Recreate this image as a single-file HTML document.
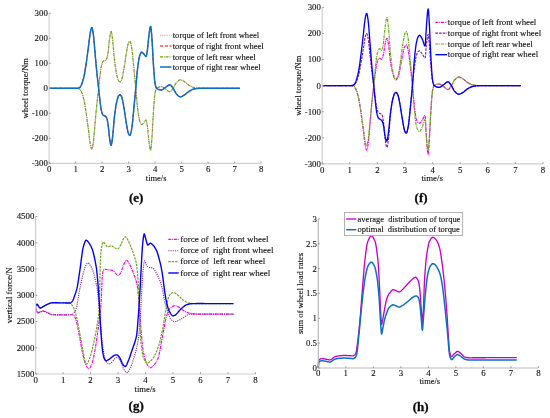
<!DOCTYPE html>
<html lang="en">
<head>
<meta charset="utf-8">
<title>Figure: wheel torque, vertical force and load rates</title>
<style>
html,body{margin:0;padding:0;background:#ffffff;}
body{width:550px;height:418px;overflow:hidden;position:relative;font-family:"Liberation Serif","DejaVu Serif",serif;}
svg text{font-family:"Liberation Serif","DejaVu Serif",serif;fill:#111111;stroke:#111111;stroke-width:0.12px;white-space:pre;}
svg text.cap{fill:#0a0a0a;stroke:#0a0a0a;stroke-width:0.3px;}
</style>
</head>
<body>
<svg width="550" height="418" viewBox="0 0 550 418" style="display:block;position:absolute;left:0;top:0">
<rect x="0" y="0" width="550" height="418" fill="#ffffff"/>
<g class="plot" id="plot-e">
<path d="M49.10 88.30 L49.44 88.30 L49.78 88.30 L50.12 88.30 L50.47 88.30 L50.81 88.30 L51.15 88.30 L51.49 88.30 L51.83 88.30 L52.17 88.30 L52.51 88.30 L52.85 88.30 L53.20 88.30 L53.54 88.30 L53.88 88.30 L54.22 88.30 L54.56 88.30 L54.90 88.30 L55.24 88.30 L55.59 88.30 L55.93 88.30 L56.27 88.30 L56.61 88.30 L56.95 88.30 L57.29 88.30 L57.63 88.30 L57.97 88.30 L58.32 88.30 L58.66 88.30 L59.00 88.30 L59.34 88.30 L59.68 88.30 L60.02 88.30 L60.36 88.30 L60.71 88.30 L61.05 88.30 L61.39 88.30 L61.73 88.30 L62.07 88.30 L62.41 88.30 L62.75 88.30 L63.09 88.30 L63.44 88.30 L63.78 88.30 L64.12 88.30 L64.46 88.30 L64.80 88.30 L65.14 88.30 L65.48 88.30 L65.82 88.30 L66.17 88.30 L66.51 88.30 L66.85 88.30 L67.19 88.30 L67.53 88.30 L67.87 88.30 L68.21 88.30 L68.56 88.30 L68.90 88.30 L69.24 88.30 L69.58 88.30 L69.92 88.30 L70.26 88.30 L70.60 88.30 L70.94 88.30 L71.29 88.30 L71.63 88.30 L71.97 88.30 L72.31 88.30 L72.65 88.30 L72.99 88.30 L73.33 88.30 L73.68 88.30 L74.02 88.30 L74.36 88.30 L74.70 88.30 L75.04 88.30 L75.38 88.30 L75.72 88.30 L76.06 88.31 L76.41 88.33 L76.75 88.35 L77.09 88.38 L77.43 88.40 L77.77 88.43 L78.11 88.48 L78.45 88.58 L78.80 88.70 L79.14 88.85 L79.48 89.00 L79.82 89.21 L80.16 89.59 L80.50 90.10 L80.84 90.69 L81.18 91.33 L81.53 91.99 L81.87 92.78 L82.21 93.73 L82.55 94.78 L82.89 95.88 L83.23 97.03 L83.57 98.33 L83.92 99.78 L84.26 101.37 L84.60 103.11 L84.94 105.07 L85.28 107.18 L85.62 109.41 L85.96 111.70 L86.30 114.01 L86.65 116.38 L86.99 118.83 L87.33 121.34 L87.67 123.89 L88.01 126.47 L88.35 129.04 L88.69 131.78 L89.03 134.66 L89.38 137.53 L89.72 140.23 L90.06 142.60 L90.40 144.56 L90.74 146.28 L91.08 147.68 L91.42 148.64 L91.77 149.05 L92.11 148.70 L92.45 147.56 L92.79 145.81 L93.13 143.63 L93.47 141.15 L93.81 137.93 L94.15 134.10 L94.50 130.01 L94.84 126.00 L95.18 122.23 L95.52 118.40 L95.86 114.56 L96.20 110.78 L96.54 107.14 L96.89 103.72 L97.23 100.53 L97.57 97.50 L97.91 94.54 L98.25 91.55 L98.59 88.44 L98.93 85.20 L99.27 81.96 L99.62 78.84 L99.96 75.98 L100.30 73.29 L100.64 70.68 L100.98 68.31 L101.32 66.36 L101.66 64.97 L102.01 63.80 L102.35 62.76 L102.69 61.94 L103.03 61.41 L103.37 61.20 L103.71 61.09 L104.05 61.03 L104.39 60.95 L104.74 60.81 L105.08 60.58 L105.42 60.30 L105.76 59.96 L106.10 59.58 L106.44 59.15 L106.78 58.37 L107.13 57.18 L107.47 55.69 L107.81 53.96 L108.15 51.84 L108.49 48.76 L108.83 45.20 L109.17 41.71 L109.51 38.84 L109.86 36.49 L110.20 34.31 L110.54 32.55 L110.88 31.49 L111.22 31.39 L111.56 32.46 L111.90 34.45 L112.24 37.03 L112.59 39.86 L112.93 42.87 L113.27 46.55 L113.61 50.61 L113.95 54.68 L114.29 58.41 L114.63 61.44 L114.98 64.13 L115.32 66.68 L115.66 69.04 L116.00 71.17 L116.34 73.03 L116.68 74.58 L117.02 75.97 L117.36 77.30 L117.71 78.52 L118.05 79.55 L118.39 80.32 L118.73 80.82 L119.07 81.24 L119.41 81.56 L119.75 81.76 L120.10 81.80 L120.44 81.64 L120.78 81.27 L121.12 80.72 L121.46 80.03 L121.80 79.24 L122.14 78.31 L122.48 76.98 L122.83 75.32 L123.17 73.42 L123.51 71.42 L123.85 69.44 L124.19 67.37 L124.53 65.15 L124.87 62.85 L125.22 60.53 L125.56 58.26 L125.90 56.11 L126.24 54.05 L126.58 51.95 L126.92 49.90 L127.26 47.96 L127.60 46.22 L127.95 44.75 L128.29 43.59 L128.63 42.66 L128.97 41.96 L129.31 41.49 L129.65 41.28 L129.99 41.34 L130.34 41.86 L130.68 42.86 L131.02 44.25 L131.36 45.94 L131.70 47.84 L132.04 50.06 L132.38 52.92 L132.72 56.24 L133.07 59.82 L133.41 63.45 L133.75 66.95 L134.09 70.46 L134.43 74.06 L134.77 77.71 L135.11 81.39 L135.45 85.08 L135.80 88.74 L136.14 92.58 L136.48 96.57 L136.82 100.51 L137.16 104.19 L137.50 107.41 L137.84 110.13 L138.19 112.67 L138.53 115.00 L138.87 117.08 L139.21 118.84 L139.55 120.23 L139.89 121.27 L140.23 122.27 L140.57 123.21 L140.92 123.97 L141.26 124.45 L141.60 124.55 L141.94 124.38 L142.28 124.14 L142.62 123.84 L142.96 123.52 L143.31 123.18 L143.65 122.83 L143.99 122.40 L144.33 121.93 L144.67 121.43 L145.01 120.95 L145.35 120.51 L145.69 120.16 L146.04 120.09 L146.38 120.87 L146.72 122.29 L147.06 124.06 L147.40 126.26 L147.74 129.42 L148.08 133.08 L148.43 136.70 L148.77 139.76 L149.11 142.47 L149.45 145.08 L149.79 147.37 L150.13 149.13 L150.47 150.15 L150.81 149.91 L151.16 147.54 L151.50 143.75 L151.84 139.35 L152.18 134.51 L152.52 128.47 L152.86 121.92 L153.20 115.62 L153.55 110.31 L153.89 105.50 L154.23 100.87 L154.57 96.84 L154.91 93.85 L155.25 92.17 L155.59 90.85 L155.93 89.72 L156.28 88.86 L156.62 88.36 L156.96 88.13 L157.30 87.90 L157.64 87.69 L157.98 87.48 L158.32 87.30 L158.66 87.16 L159.01 87.06 L159.35 87.00 L159.69 86.92 L160.03 86.85 L160.37 86.78 L160.71 86.72 L161.05 86.69 L161.40 86.69 L161.74 86.74 L162.08 86.83 L162.42 86.97 L162.76 87.14 L163.10 87.35 L163.44 87.59 L163.78 87.84 L164.13 88.11 L164.47 88.38 L164.81 88.65 L165.15 88.91 L165.49 89.16 L165.83 89.39 L166.17 89.63 L166.52 89.88 L166.86 90.14 L167.20 90.40 L167.54 90.66 L167.88 90.91 L168.22 91.14 L168.56 91.34 L168.90 91.53 L169.25 91.67 L169.59 91.78 L169.93 91.82 L170.27 91.73 L170.61 91.52 L170.95 91.22 L171.29 90.85 L171.64 90.41 L171.98 89.94 L172.32 89.44 L172.66 88.95 L173.00 88.46 L173.34 87.98 L173.68 87.42 L174.02 86.80 L174.37 86.14 L174.71 85.46 L175.05 84.79 L175.39 84.15 L175.73 83.57 L176.07 83.08 L176.41 82.67 L176.76 82.30 L177.10 81.93 L177.44 81.57 L177.78 81.22 L178.12 80.90 L178.46 80.61 L178.80 80.35 L179.14 80.14 L179.49 79.97 L179.83 79.85 L180.17 79.79 L180.51 79.80 L180.85 79.85 L181.19 79.94 L181.53 80.06 L181.87 80.19 L182.22 80.35 L182.56 80.53 L182.90 80.72 L183.24 80.92 L183.58 81.13 L183.92 81.34 L184.26 81.56 L184.61 81.79 L184.95 82.03 L185.29 82.29 L185.63 82.56 L185.97 82.83 L186.31 83.11 L186.65 83.40 L186.99 83.68 L187.34 83.97 L187.68 84.24 L188.02 84.51 L188.36 84.77 L188.70 85.02 L189.04 85.24 L189.38 85.46 L189.73 85.65 L190.07 85.84 L190.41 86.03 L190.75 86.21 L191.09 86.40 L191.43 86.57 L191.77 86.75 L192.11 86.91 L192.46 87.07 L192.80 87.21 L193.14 87.35 L193.48 87.47 L193.82 87.58 L194.16 87.67 L194.50 87.74 L194.85 87.80 L195.19 87.85 L195.53 87.89 L195.87 87.94 L196.21 87.99 L196.55 88.03 L196.89 88.07 L197.23 88.11 L197.58 88.15 L197.92 88.18 L198.26 88.21 L198.60 88.24 L198.94 88.26 L199.28 88.28 L199.62 88.29 L199.97 88.30 L200.31 88.30 L200.65 88.30 L200.99 88.30 L201.33 88.30 L201.67 88.30 L202.01 88.30 L202.35 88.30 L202.70 88.30 L203.04 88.30 L203.38 88.30 L203.72 88.30 L204.06 88.30 L204.40 88.30 L204.74 88.30 L205.08 88.30 L205.43 88.30 L205.77 88.30 L206.11 88.30 L206.45 88.30 L206.79 88.30 L207.13 88.30 L207.47 88.30 L207.82 88.30 L208.16 88.30 L208.50 88.30 L208.84 88.30 L209.18 88.30 L209.52 88.30 L209.86 88.30 L210.20 88.30 L210.55 88.30 L210.89 88.30 L211.23 88.30 L211.57 88.30 L211.91 88.30 L212.25 88.30 L212.59 88.30 L212.94 88.30 L213.28 88.30 L213.62 88.30 L213.96 88.30 L214.30 88.30 L214.64 88.30 L214.98 88.30 L215.32 88.30 L215.67 88.30 L216.01 88.30 L216.35 88.30 L216.69 88.30 L217.03 88.30 L217.37 88.30 L217.71 88.30 L218.06 88.30 L218.40 88.30 L218.74 88.30 L219.08 88.30 L219.42 88.30 L219.76 88.30 L220.10 88.30 L220.44 88.30 L220.79 88.30 L221.13 88.30 L221.47 88.30 L221.81 88.30 L222.15 88.30 L222.49 88.30 L222.83 88.30 L223.18 88.30 L223.52 88.30 L223.86 88.30 L224.20 88.30 L224.54 88.30 L224.88 88.30 L225.22 88.30 L225.56 88.30 L225.91 88.30 L226.25 88.30 L226.59 88.30 L226.93 88.30 L227.27 88.30 L227.61 88.30 L227.95 88.30 L228.29 88.30 L228.64 88.30 L228.98 88.30 L229.32 88.30 L229.66 88.30 L230.00 88.30 L230.34 88.30 L230.68 88.30 L231.03 88.30 L231.37 88.30 L231.71 88.30 L232.05 88.30 L232.39 88.30 L232.73 88.30 L233.07 88.30 L233.41 88.30 L233.76 88.30 L234.10 88.30 L234.44 88.30 L234.78 88.30 L235.12 88.30 L235.46 88.30 L235.80 88.30 L236.15 88.30 L236.49 88.30 L236.83 88.30 L237.17 88.30 L237.51 88.30 L237.85 88.30 L238.19 88.30 L238.53 88.30 L238.88 88.30 L239.22 88.30 L239.56 88.30 L239.90 88.30" fill="none" stroke="#ff7fbf" stroke-width="1.0" stroke-linejoin="round" stroke-dasharray="1.1 1.1"/>
<path d="M49.10 88.30 L49.44 88.30 L49.78 88.30 L50.12 88.30 L50.47 88.30 L50.81 88.30 L51.15 88.30 L51.49 88.30 L51.83 88.30 L52.17 88.30 L52.51 88.30 L52.85 88.30 L53.20 88.30 L53.54 88.30 L53.88 88.30 L54.22 88.30 L54.56 88.30 L54.90 88.30 L55.24 88.30 L55.59 88.30 L55.93 88.30 L56.27 88.30 L56.61 88.30 L56.95 88.30 L57.29 88.30 L57.63 88.30 L57.97 88.30 L58.32 88.30 L58.66 88.30 L59.00 88.30 L59.34 88.30 L59.68 88.30 L60.02 88.30 L60.36 88.30 L60.71 88.30 L61.05 88.30 L61.39 88.30 L61.73 88.30 L62.07 88.30 L62.41 88.30 L62.75 88.30 L63.09 88.30 L63.44 88.30 L63.78 88.30 L64.12 88.30 L64.46 88.30 L64.80 88.30 L65.14 88.30 L65.48 88.30 L65.82 88.30 L66.17 88.30 L66.51 88.30 L66.85 88.30 L67.19 88.30 L67.53 88.30 L67.87 88.30 L68.21 88.30 L68.56 88.30 L68.90 88.30 L69.24 88.30 L69.58 88.30 L69.92 88.30 L70.26 88.30 L70.60 88.30 L70.94 88.30 L71.29 88.30 L71.63 88.30 L71.97 88.30 L72.31 88.30 L72.65 88.30 L72.99 88.30 L73.33 88.30 L73.68 88.30 L74.02 88.30 L74.36 88.30 L74.70 88.30 L75.04 88.30 L75.38 88.30 L75.72 88.30 L76.06 88.29 L76.41 88.27 L76.75 88.25 L77.09 88.22 L77.43 88.20 L77.77 88.17 L78.11 88.12 L78.45 88.02 L78.80 87.90 L79.14 87.75 L79.48 87.60 L79.82 87.39 L80.16 87.01 L80.50 86.50 L80.84 85.91 L81.18 85.27 L81.53 84.61 L81.87 83.82 L82.21 82.87 L82.55 81.82 L82.89 80.72 L83.23 79.57 L83.57 78.27 L83.92 76.82 L84.26 75.23 L84.60 73.49 L84.94 71.53 L85.28 69.42 L85.62 67.19 L85.96 64.90 L86.30 62.59 L86.65 60.22 L86.99 57.77 L87.33 55.26 L87.67 52.71 L88.01 50.13 L88.35 47.56 L88.69 44.82 L89.03 41.94 L89.38 39.07 L89.72 36.37 L90.06 34.00 L90.40 32.04 L90.74 30.32 L91.08 28.92 L91.42 27.96 L91.77 27.55 L92.11 27.90 L92.45 29.04 L92.79 30.79 L93.13 32.97 L93.47 35.45 L93.81 38.67 L94.15 42.50 L94.50 46.59 L94.84 50.60 L95.18 54.37 L95.52 58.20 L95.86 62.04 L96.20 65.82 L96.54 69.46 L96.89 72.88 L97.23 76.07 L97.57 79.10 L97.91 82.06 L98.25 85.05 L98.59 88.16 L98.93 91.40 L99.27 94.64 L99.62 97.76 L99.96 100.62 L100.30 103.31 L100.64 105.92 L100.98 108.29 L101.32 110.24 L101.66 111.63 L102.01 112.80 L102.35 113.84 L102.69 114.66 L103.03 115.19 L103.37 115.40 L103.71 115.51 L104.05 115.57 L104.39 115.65 L104.74 115.79 L105.08 116.02 L105.42 116.30 L105.76 116.64 L106.10 117.02 L106.44 117.45 L106.78 118.23 L107.13 119.42 L107.47 120.91 L107.81 122.64 L108.15 124.76 L108.49 127.84 L108.83 131.40 L109.17 134.89 L109.51 137.76 L109.86 140.11 L110.20 142.29 L110.54 144.05 L110.88 145.11 L111.22 145.21 L111.56 144.14 L111.90 142.15 L112.24 139.57 L112.59 136.74 L112.93 133.73 L113.27 130.05 L113.61 125.99 L113.95 121.92 L114.29 118.19 L114.63 115.16 L114.98 112.47 L115.32 109.92 L115.66 107.56 L116.00 105.43 L116.34 103.57 L116.68 102.02 L117.02 100.63 L117.36 99.30 L117.71 98.08 L118.05 97.05 L118.39 96.28 L118.73 95.78 L119.07 95.36 L119.41 95.04 L119.75 94.84 L120.10 94.80 L120.44 94.96 L120.78 95.33 L121.12 95.88 L121.46 96.57 L121.80 97.36 L122.14 98.29 L122.48 99.62 L122.83 101.28 L123.17 103.18 L123.51 105.18 L123.85 107.16 L124.19 109.23 L124.53 111.45 L124.87 113.75 L125.22 116.07 L125.56 118.34 L125.90 120.49 L126.24 122.55 L126.58 124.65 L126.92 126.70 L127.26 128.64 L127.60 130.38 L127.95 131.85 L128.29 133.01 L128.63 133.94 L128.97 134.64 L129.31 135.11 L129.65 135.32 L129.99 135.26 L130.34 134.74 L130.68 133.74 L131.02 132.35 L131.36 130.66 L131.70 128.76 L132.04 126.54 L132.38 123.68 L132.72 120.36 L133.07 116.78 L133.41 113.15 L133.75 109.65 L134.09 106.14 L134.43 102.54 L134.77 98.89 L135.11 95.21 L135.45 91.52 L135.80 87.86 L136.14 84.02 L136.48 80.03 L136.82 76.09 L137.16 72.41 L137.50 69.19 L137.84 66.47 L138.19 63.93 L138.53 61.60 L138.87 59.52 L139.21 57.76 L139.55 56.37 L139.89 55.33 L140.23 54.33 L140.57 53.39 L140.92 52.63 L141.26 52.15 L141.60 52.05 L141.94 52.22 L142.28 52.46 L142.62 52.76 L142.96 53.08 L143.31 53.42 L143.65 53.77 L143.99 54.20 L144.33 54.67 L144.67 55.17 L145.01 55.65 L145.35 56.09 L145.69 56.44 L146.04 56.51 L146.38 55.73 L146.72 54.31 L147.06 52.54 L147.40 50.34 L147.74 47.18 L148.08 43.52 L148.43 39.90 L148.77 36.84 L149.11 34.13 L149.45 31.52 L149.79 29.23 L150.13 27.47 L150.47 26.45 L150.81 26.69 L151.16 29.06 L151.50 32.85 L151.84 37.25 L152.18 42.09 L152.52 48.13 L152.86 54.68 L153.20 60.98 L153.55 66.29 L153.89 71.10 L154.23 75.73 L154.57 79.76 L154.91 82.75 L155.25 84.43 L155.59 85.75 L155.93 86.88 L156.28 87.74 L156.62 88.24 L156.96 88.47 L157.30 88.70 L157.64 88.91 L157.98 89.12 L158.32 89.30 L158.66 89.44 L159.01 89.54 L159.35 89.60 L159.69 89.68 L160.03 89.75 L160.37 89.82 L160.71 89.88 L161.05 89.91 L161.40 89.91 L161.74 89.86 L162.08 89.77 L162.42 89.63 L162.76 89.46 L163.10 89.25 L163.44 89.01 L163.78 88.76 L164.13 88.49 L164.47 88.22 L164.81 87.95 L165.15 87.69 L165.49 87.44 L165.83 87.21 L166.17 86.97 L166.52 86.72 L166.86 86.46 L167.20 86.20 L167.54 85.94 L167.88 85.69 L168.22 85.46 L168.56 85.26 L168.90 85.07 L169.25 84.93 L169.59 84.82 L169.93 84.78 L170.27 84.87 L170.61 85.08 L170.95 85.38 L171.29 85.75 L171.64 86.19 L171.98 86.66 L172.32 87.16 L172.66 87.65 L173.00 88.14 L173.34 88.62 L173.68 89.18 L174.02 89.80 L174.37 90.46 L174.71 91.14 L175.05 91.81 L175.39 92.45 L175.73 93.03 L176.07 93.52 L176.41 93.93 L176.76 94.30 L177.10 94.67 L177.44 95.03 L177.78 95.38 L178.12 95.70 L178.46 95.99 L178.80 96.25 L179.14 96.46 L179.49 96.63 L179.83 96.75 L180.17 96.81 L180.51 96.80 L180.85 96.75 L181.19 96.66 L181.53 96.54 L181.87 96.41 L182.22 96.25 L182.56 96.07 L182.90 95.88 L183.24 95.68 L183.58 95.47 L183.92 95.26 L184.26 95.04 L184.61 94.81 L184.95 94.57 L185.29 94.31 L185.63 94.04 L185.97 93.77 L186.31 93.49 L186.65 93.20 L186.99 92.92 L187.34 92.63 L187.68 92.36 L188.02 92.09 L188.36 91.83 L188.70 91.58 L189.04 91.36 L189.38 91.14 L189.73 90.95 L190.07 90.76 L190.41 90.57 L190.75 90.39 L191.09 90.20 L191.43 90.03 L191.77 89.85 L192.11 89.69 L192.46 89.53 L192.80 89.39 L193.14 89.25 L193.48 89.13 L193.82 89.02 L194.16 88.93 L194.50 88.86 L194.85 88.80 L195.19 88.75 L195.53 88.71 L195.87 88.66 L196.21 88.61 L196.55 88.57 L196.89 88.53 L197.23 88.49 L197.58 88.45 L197.92 88.42 L198.26 88.39 L198.60 88.36 L198.94 88.34 L199.28 88.32 L199.62 88.31 L199.97 88.30 L200.31 88.30 L200.65 88.30 L200.99 88.30 L201.33 88.30 L201.67 88.30 L202.01 88.30 L202.35 88.30 L202.70 88.30 L203.04 88.30 L203.38 88.30 L203.72 88.30 L204.06 88.30 L204.40 88.30 L204.74 88.30 L205.08 88.30 L205.43 88.30 L205.77 88.30 L206.11 88.30 L206.45 88.30 L206.79 88.30 L207.13 88.30 L207.47 88.30 L207.82 88.30 L208.16 88.30 L208.50 88.30 L208.84 88.30 L209.18 88.30 L209.52 88.30 L209.86 88.30 L210.20 88.30 L210.55 88.30 L210.89 88.30 L211.23 88.30 L211.57 88.30 L211.91 88.30 L212.25 88.30 L212.59 88.30 L212.94 88.30 L213.28 88.30 L213.62 88.30 L213.96 88.30 L214.30 88.30 L214.64 88.30 L214.98 88.30 L215.32 88.30 L215.67 88.30 L216.01 88.30 L216.35 88.30 L216.69 88.30 L217.03 88.30 L217.37 88.30 L217.71 88.30 L218.06 88.30 L218.40 88.30 L218.74 88.30 L219.08 88.30 L219.42 88.30 L219.76 88.30 L220.10 88.30 L220.44 88.30 L220.79 88.30 L221.13 88.30 L221.47 88.30 L221.81 88.30 L222.15 88.30 L222.49 88.30 L222.83 88.30 L223.18 88.30 L223.52 88.30 L223.86 88.30 L224.20 88.30 L224.54 88.30 L224.88 88.30 L225.22 88.30 L225.56 88.30 L225.91 88.30 L226.25 88.30 L226.59 88.30 L226.93 88.30 L227.27 88.30 L227.61 88.30 L227.95 88.30 L228.29 88.30 L228.64 88.30 L228.98 88.30 L229.32 88.30 L229.66 88.30 L230.00 88.30 L230.34 88.30 L230.68 88.30 L231.03 88.30 L231.37 88.30 L231.71 88.30 L232.05 88.30 L232.39 88.30 L232.73 88.30 L233.07 88.30 L233.41 88.30 L233.76 88.30 L234.10 88.30 L234.44 88.30 L234.78 88.30 L235.12 88.30 L235.46 88.30 L235.80 88.30 L236.15 88.30 L236.49 88.30 L236.83 88.30 L237.17 88.30 L237.51 88.30 L237.85 88.30 L238.19 88.30 L238.53 88.30 L238.88 88.30 L239.22 88.30 L239.56 88.30 L239.90 88.30" fill="none" stroke="#ff0000" stroke-width="1.1" stroke-linejoin="round" stroke-dasharray="3.2 1.6"/>
<path d="M49.10 88.30 L49.44 88.30 L49.78 88.30 L50.12 88.30 L50.47 88.30 L50.81 88.30 L51.15 88.30 L51.49 88.30 L51.83 88.30 L52.17 88.30 L52.51 88.30 L52.85 88.30 L53.20 88.30 L53.54 88.30 L53.88 88.30 L54.22 88.30 L54.56 88.30 L54.90 88.30 L55.24 88.30 L55.59 88.30 L55.93 88.30 L56.27 88.30 L56.61 88.30 L56.95 88.30 L57.29 88.30 L57.63 88.30 L57.97 88.30 L58.32 88.30 L58.66 88.30 L59.00 88.30 L59.34 88.30 L59.68 88.30 L60.02 88.30 L60.36 88.30 L60.71 88.30 L61.05 88.30 L61.39 88.30 L61.73 88.30 L62.07 88.30 L62.41 88.30 L62.75 88.30 L63.09 88.30 L63.44 88.30 L63.78 88.30 L64.12 88.30 L64.46 88.30 L64.80 88.30 L65.14 88.30 L65.48 88.30 L65.82 88.30 L66.17 88.30 L66.51 88.30 L66.85 88.30 L67.19 88.30 L67.53 88.30 L67.87 88.30 L68.21 88.30 L68.56 88.30 L68.90 88.30 L69.24 88.30 L69.58 88.30 L69.92 88.30 L70.26 88.30 L70.60 88.30 L70.94 88.30 L71.29 88.30 L71.63 88.30 L71.97 88.30 L72.31 88.30 L72.65 88.30 L72.99 88.30 L73.33 88.30 L73.68 88.30 L74.02 88.30 L74.36 88.30 L74.70 88.30 L75.04 88.30 L75.38 88.30 L75.72 88.30 L76.06 88.31 L76.41 88.33 L76.75 88.35 L77.09 88.38 L77.43 88.40 L77.77 88.43 L78.11 88.48 L78.45 88.58 L78.80 88.70 L79.14 88.85 L79.48 89.00 L79.82 89.21 L80.16 89.59 L80.50 90.10 L80.84 90.69 L81.18 91.33 L81.53 91.99 L81.87 92.78 L82.21 93.73 L82.55 94.78 L82.89 95.88 L83.23 97.03 L83.57 98.33 L83.92 99.78 L84.26 101.37 L84.60 103.11 L84.94 105.07 L85.28 107.18 L85.62 109.41 L85.96 111.70 L86.30 114.01 L86.65 116.38 L86.99 118.83 L87.33 121.34 L87.67 123.89 L88.01 126.47 L88.35 129.04 L88.69 131.78 L89.03 134.66 L89.38 137.53 L89.72 140.23 L90.06 142.60 L90.40 144.56 L90.74 146.28 L91.08 147.68 L91.42 148.64 L91.77 149.05 L92.11 148.70 L92.45 147.56 L92.79 145.81 L93.13 143.63 L93.47 141.15 L93.81 137.93 L94.15 134.10 L94.50 130.01 L94.84 126.00 L95.18 122.23 L95.52 118.40 L95.86 114.56 L96.20 110.78 L96.54 107.14 L96.89 103.72 L97.23 100.53 L97.57 97.50 L97.91 94.54 L98.25 91.55 L98.59 88.44 L98.93 85.20 L99.27 81.96 L99.62 78.84 L99.96 75.98 L100.30 73.29 L100.64 70.68 L100.98 68.31 L101.32 66.36 L101.66 64.97 L102.01 63.80 L102.35 62.76 L102.69 61.94 L103.03 61.41 L103.37 61.20 L103.71 61.09 L104.05 61.03 L104.39 60.95 L104.74 60.81 L105.08 60.58 L105.42 60.30 L105.76 59.96 L106.10 59.58 L106.44 59.15 L106.78 58.37 L107.13 57.18 L107.47 55.69 L107.81 53.96 L108.15 51.84 L108.49 48.76 L108.83 45.20 L109.17 41.71 L109.51 38.84 L109.86 36.49 L110.20 34.31 L110.54 32.55 L110.88 31.49 L111.22 31.39 L111.56 32.46 L111.90 34.45 L112.24 37.03 L112.59 39.86 L112.93 42.87 L113.27 46.55 L113.61 50.61 L113.95 54.68 L114.29 58.41 L114.63 61.44 L114.98 64.13 L115.32 66.68 L115.66 69.04 L116.00 71.17 L116.34 73.03 L116.68 74.58 L117.02 75.97 L117.36 77.30 L117.71 78.52 L118.05 79.55 L118.39 80.32 L118.73 80.82 L119.07 81.24 L119.41 81.56 L119.75 81.76 L120.10 81.80 L120.44 81.64 L120.78 81.27 L121.12 80.72 L121.46 80.03 L121.80 79.24 L122.14 78.31 L122.48 76.98 L122.83 75.32 L123.17 73.42 L123.51 71.42 L123.85 69.44 L124.19 67.37 L124.53 65.15 L124.87 62.85 L125.22 60.53 L125.56 58.26 L125.90 56.11 L126.24 54.05 L126.58 51.95 L126.92 49.90 L127.26 47.96 L127.60 46.22 L127.95 44.75 L128.29 43.59 L128.63 42.66 L128.97 41.96 L129.31 41.49 L129.65 41.28 L129.99 41.34 L130.34 41.86 L130.68 42.86 L131.02 44.25 L131.36 45.94 L131.70 47.84 L132.04 50.06 L132.38 52.92 L132.72 56.24 L133.07 59.82 L133.41 63.45 L133.75 66.95 L134.09 70.46 L134.43 74.06 L134.77 77.71 L135.11 81.39 L135.45 85.08 L135.80 88.74 L136.14 92.58 L136.48 96.57 L136.82 100.51 L137.16 104.19 L137.50 107.41 L137.84 110.13 L138.19 112.67 L138.53 115.00 L138.87 117.08 L139.21 118.84 L139.55 120.23 L139.89 121.27 L140.23 122.27 L140.57 123.21 L140.92 123.97 L141.26 124.45 L141.60 124.55 L141.94 124.38 L142.28 124.14 L142.62 123.84 L142.96 123.52 L143.31 123.18 L143.65 122.83 L143.99 122.40 L144.33 121.93 L144.67 121.43 L145.01 120.95 L145.35 120.51 L145.69 120.16 L146.04 120.09 L146.38 120.87 L146.72 122.29 L147.06 124.06 L147.40 126.26 L147.74 129.42 L148.08 133.08 L148.43 136.70 L148.77 139.76 L149.11 142.47 L149.45 145.08 L149.79 147.37 L150.13 149.13 L150.47 150.15 L150.81 149.91 L151.16 147.54 L151.50 143.75 L151.84 139.35 L152.18 134.51 L152.52 128.47 L152.86 121.92 L153.20 115.62 L153.55 110.31 L153.89 105.50 L154.23 100.87 L154.57 96.84 L154.91 93.85 L155.25 92.17 L155.59 90.85 L155.93 89.72 L156.28 88.86 L156.62 88.36 L156.96 88.13 L157.30 87.90 L157.64 87.69 L157.98 87.48 L158.32 87.30 L158.66 87.16 L159.01 87.06 L159.35 87.00 L159.69 86.92 L160.03 86.85 L160.37 86.78 L160.71 86.72 L161.05 86.69 L161.40 86.69 L161.74 86.74 L162.08 86.83 L162.42 86.97 L162.76 87.14 L163.10 87.35 L163.44 87.59 L163.78 87.84 L164.13 88.11 L164.47 88.38 L164.81 88.65 L165.15 88.91 L165.49 89.16 L165.83 89.39 L166.17 89.63 L166.52 89.88 L166.86 90.14 L167.20 90.40 L167.54 90.66 L167.88 90.91 L168.22 91.14 L168.56 91.34 L168.90 91.53 L169.25 91.67 L169.59 91.78 L169.93 91.82 L170.27 91.73 L170.61 91.52 L170.95 91.22 L171.29 90.85 L171.64 90.41 L171.98 89.94 L172.32 89.44 L172.66 88.95 L173.00 88.46 L173.34 87.98 L173.68 87.42 L174.02 86.80 L174.37 86.14 L174.71 85.46 L175.05 84.79 L175.39 84.15 L175.73 83.57 L176.07 83.08 L176.41 82.67 L176.76 82.30 L177.10 81.93 L177.44 81.57 L177.78 81.22 L178.12 80.90 L178.46 80.61 L178.80 80.35 L179.14 80.14 L179.49 79.97 L179.83 79.85 L180.17 79.79 L180.51 79.80 L180.85 79.85 L181.19 79.94 L181.53 80.06 L181.87 80.19 L182.22 80.35 L182.56 80.53 L182.90 80.72 L183.24 80.92 L183.58 81.13 L183.92 81.34 L184.26 81.56 L184.61 81.79 L184.95 82.03 L185.29 82.29 L185.63 82.56 L185.97 82.83 L186.31 83.11 L186.65 83.40 L186.99 83.68 L187.34 83.97 L187.68 84.24 L188.02 84.51 L188.36 84.77 L188.70 85.02 L189.04 85.24 L189.38 85.46 L189.73 85.65 L190.07 85.84 L190.41 86.03 L190.75 86.21 L191.09 86.40 L191.43 86.57 L191.77 86.75 L192.11 86.91 L192.46 87.07 L192.80 87.21 L193.14 87.35 L193.48 87.47 L193.82 87.58 L194.16 87.67 L194.50 87.74 L194.85 87.80 L195.19 87.85 L195.53 87.89 L195.87 87.94 L196.21 87.99 L196.55 88.03 L196.89 88.07 L197.23 88.11 L197.58 88.15 L197.92 88.18 L198.26 88.21 L198.60 88.24 L198.94 88.26 L199.28 88.28 L199.62 88.29 L199.97 88.30 L200.31 88.30 L200.65 88.30 L200.99 88.30 L201.33 88.30 L201.67 88.30 L202.01 88.30 L202.35 88.30 L202.70 88.30 L203.04 88.30 L203.38 88.30 L203.72 88.30 L204.06 88.30 L204.40 88.30 L204.74 88.30 L205.08 88.30 L205.43 88.30 L205.77 88.30 L206.11 88.30 L206.45 88.30 L206.79 88.30 L207.13 88.30 L207.47 88.30 L207.82 88.30 L208.16 88.30 L208.50 88.30 L208.84 88.30 L209.18 88.30 L209.52 88.30 L209.86 88.30 L210.20 88.30 L210.55 88.30 L210.89 88.30 L211.23 88.30 L211.57 88.30 L211.91 88.30 L212.25 88.30 L212.59 88.30 L212.94 88.30 L213.28 88.30 L213.62 88.30 L213.96 88.30 L214.30 88.30 L214.64 88.30 L214.98 88.30 L215.32 88.30 L215.67 88.30 L216.01 88.30 L216.35 88.30 L216.69 88.30 L217.03 88.30 L217.37 88.30 L217.71 88.30 L218.06 88.30 L218.40 88.30 L218.74 88.30 L219.08 88.30 L219.42 88.30 L219.76 88.30 L220.10 88.30 L220.44 88.30 L220.79 88.30 L221.13 88.30 L221.47 88.30 L221.81 88.30 L222.15 88.30 L222.49 88.30 L222.83 88.30 L223.18 88.30 L223.52 88.30 L223.86 88.30 L224.20 88.30 L224.54 88.30 L224.88 88.30 L225.22 88.30 L225.56 88.30 L225.91 88.30 L226.25 88.30 L226.59 88.30 L226.93 88.30 L227.27 88.30 L227.61 88.30 L227.95 88.30 L228.29 88.30 L228.64 88.30 L228.98 88.30 L229.32 88.30 L229.66 88.30 L230.00 88.30 L230.34 88.30 L230.68 88.30 L231.03 88.30 L231.37 88.30 L231.71 88.30 L232.05 88.30 L232.39 88.30 L232.73 88.30 L233.07 88.30 L233.41 88.30 L233.76 88.30 L234.10 88.30 L234.44 88.30 L234.78 88.30 L235.12 88.30 L235.46 88.30 L235.80 88.30 L236.15 88.30 L236.49 88.30 L236.83 88.30 L237.17 88.30 L237.51 88.30 L237.85 88.30 L238.19 88.30 L238.53 88.30 L238.88 88.30 L239.22 88.30 L239.56 88.30 L239.90 88.30" fill="none" stroke="#6aa818" stroke-width="1.2" stroke-linejoin="round" stroke-dasharray="3 0.8 1 0.8"/>
<path d="M49.10 88.30 L49.44 88.30 L49.78 88.30 L50.12 88.30 L50.47 88.30 L50.81 88.30 L51.15 88.30 L51.49 88.30 L51.83 88.30 L52.17 88.30 L52.51 88.30 L52.85 88.30 L53.20 88.30 L53.54 88.30 L53.88 88.30 L54.22 88.30 L54.56 88.30 L54.90 88.30 L55.24 88.30 L55.59 88.30 L55.93 88.30 L56.27 88.30 L56.61 88.30 L56.95 88.30 L57.29 88.30 L57.63 88.30 L57.97 88.30 L58.32 88.30 L58.66 88.30 L59.00 88.30 L59.34 88.30 L59.68 88.30 L60.02 88.30 L60.36 88.30 L60.71 88.30 L61.05 88.30 L61.39 88.30 L61.73 88.30 L62.07 88.30 L62.41 88.30 L62.75 88.30 L63.09 88.30 L63.44 88.30 L63.78 88.30 L64.12 88.30 L64.46 88.30 L64.80 88.30 L65.14 88.30 L65.48 88.30 L65.82 88.30 L66.17 88.30 L66.51 88.30 L66.85 88.30 L67.19 88.30 L67.53 88.30 L67.87 88.30 L68.21 88.30 L68.56 88.30 L68.90 88.30 L69.24 88.30 L69.58 88.30 L69.92 88.30 L70.26 88.30 L70.60 88.30 L70.94 88.30 L71.29 88.30 L71.63 88.30 L71.97 88.30 L72.31 88.30 L72.65 88.30 L72.99 88.30 L73.33 88.30 L73.68 88.30 L74.02 88.30 L74.36 88.30 L74.70 88.30 L75.04 88.30 L75.38 88.30 L75.72 88.30 L76.06 88.29 L76.41 88.27 L76.75 88.25 L77.09 88.22 L77.43 88.20 L77.77 88.17 L78.11 88.12 L78.45 88.02 L78.80 87.90 L79.14 87.75 L79.48 87.60 L79.82 87.39 L80.16 87.01 L80.50 86.50 L80.84 85.91 L81.18 85.27 L81.53 84.61 L81.87 83.82 L82.21 82.87 L82.55 81.82 L82.89 80.72 L83.23 79.57 L83.57 78.27 L83.92 76.82 L84.26 75.23 L84.60 73.49 L84.94 71.53 L85.28 69.42 L85.62 67.19 L85.96 64.90 L86.30 62.59 L86.65 60.22 L86.99 57.77 L87.33 55.26 L87.67 52.71 L88.01 50.13 L88.35 47.56 L88.69 44.82 L89.03 41.94 L89.38 39.07 L89.72 36.37 L90.06 34.00 L90.40 32.04 L90.74 30.32 L91.08 28.92 L91.42 27.96 L91.77 27.55 L92.11 27.90 L92.45 29.04 L92.79 30.79 L93.13 32.97 L93.47 35.45 L93.81 38.67 L94.15 42.50 L94.50 46.59 L94.84 50.60 L95.18 54.37 L95.52 58.20 L95.86 62.04 L96.20 65.82 L96.54 69.46 L96.89 72.88 L97.23 76.07 L97.57 79.10 L97.91 82.06 L98.25 85.05 L98.59 88.16 L98.93 91.40 L99.27 94.64 L99.62 97.76 L99.96 100.62 L100.30 103.31 L100.64 105.92 L100.98 108.29 L101.32 110.24 L101.66 111.63 L102.01 112.80 L102.35 113.84 L102.69 114.66 L103.03 115.19 L103.37 115.40 L103.71 115.51 L104.05 115.57 L104.39 115.65 L104.74 115.79 L105.08 116.02 L105.42 116.30 L105.76 116.64 L106.10 117.02 L106.44 117.45 L106.78 118.23 L107.13 119.42 L107.47 120.91 L107.81 122.64 L108.15 124.76 L108.49 127.84 L108.83 131.40 L109.17 134.89 L109.51 137.76 L109.86 140.11 L110.20 142.29 L110.54 144.05 L110.88 145.11 L111.22 145.21 L111.56 144.14 L111.90 142.15 L112.24 139.57 L112.59 136.74 L112.93 133.73 L113.27 130.05 L113.61 125.99 L113.95 121.92 L114.29 118.19 L114.63 115.16 L114.98 112.47 L115.32 109.92 L115.66 107.56 L116.00 105.43 L116.34 103.57 L116.68 102.02 L117.02 100.63 L117.36 99.30 L117.71 98.08 L118.05 97.05 L118.39 96.28 L118.73 95.78 L119.07 95.36 L119.41 95.04 L119.75 94.84 L120.10 94.80 L120.44 94.96 L120.78 95.33 L121.12 95.88 L121.46 96.57 L121.80 97.36 L122.14 98.29 L122.48 99.62 L122.83 101.28 L123.17 103.18 L123.51 105.18 L123.85 107.16 L124.19 109.23 L124.53 111.45 L124.87 113.75 L125.22 116.07 L125.56 118.34 L125.90 120.49 L126.24 122.55 L126.58 124.65 L126.92 126.70 L127.26 128.64 L127.60 130.38 L127.95 131.85 L128.29 133.01 L128.63 133.94 L128.97 134.64 L129.31 135.11 L129.65 135.32 L129.99 135.26 L130.34 134.74 L130.68 133.74 L131.02 132.35 L131.36 130.66 L131.70 128.76 L132.04 126.54 L132.38 123.68 L132.72 120.36 L133.07 116.78 L133.41 113.15 L133.75 109.65 L134.09 106.14 L134.43 102.54 L134.77 98.89 L135.11 95.21 L135.45 91.52 L135.80 87.86 L136.14 84.02 L136.48 80.03 L136.82 76.09 L137.16 72.41 L137.50 69.19 L137.84 66.47 L138.19 63.93 L138.53 61.60 L138.87 59.52 L139.21 57.76 L139.55 56.37 L139.89 55.33 L140.23 54.33 L140.57 53.39 L140.92 52.63 L141.26 52.15 L141.60 52.05 L141.94 52.22 L142.28 52.46 L142.62 52.76 L142.96 53.08 L143.31 53.42 L143.65 53.77 L143.99 54.20 L144.33 54.67 L144.67 55.17 L145.01 55.65 L145.35 56.09 L145.69 56.44 L146.04 56.51 L146.38 55.73 L146.72 54.31 L147.06 52.54 L147.40 50.34 L147.74 47.18 L148.08 43.52 L148.43 39.90 L148.77 36.84 L149.11 34.13 L149.45 31.52 L149.79 29.23 L150.13 27.47 L150.47 26.45 L150.81 26.69 L151.16 29.06 L151.50 32.85 L151.84 37.25 L152.18 42.09 L152.52 48.13 L152.86 54.68 L153.20 60.98 L153.55 66.29 L153.89 71.10 L154.23 75.73 L154.57 79.76 L154.91 82.75 L155.25 84.43 L155.59 85.75 L155.93 86.88 L156.28 87.74 L156.62 88.24 L156.96 88.47 L157.30 88.70 L157.64 88.91 L157.98 89.12 L158.32 89.30 L158.66 89.44 L159.01 89.54 L159.35 89.60 L159.69 89.68 L160.03 89.75 L160.37 89.82 L160.71 89.88 L161.05 89.91 L161.40 89.91 L161.74 89.86 L162.08 89.77 L162.42 89.63 L162.76 89.46 L163.10 89.25 L163.44 89.01 L163.78 88.76 L164.13 88.49 L164.47 88.22 L164.81 87.95 L165.15 87.69 L165.49 87.44 L165.83 87.21 L166.17 86.97 L166.52 86.72 L166.86 86.46 L167.20 86.20 L167.54 85.94 L167.88 85.69 L168.22 85.46 L168.56 85.26 L168.90 85.07 L169.25 84.93 L169.59 84.82 L169.93 84.78 L170.27 84.87 L170.61 85.08 L170.95 85.38 L171.29 85.75 L171.64 86.19 L171.98 86.66 L172.32 87.16 L172.66 87.65 L173.00 88.14 L173.34 88.62 L173.68 89.18 L174.02 89.80 L174.37 90.46 L174.71 91.14 L175.05 91.81 L175.39 92.45 L175.73 93.03 L176.07 93.52 L176.41 93.93 L176.76 94.30 L177.10 94.67 L177.44 95.03 L177.78 95.38 L178.12 95.70 L178.46 95.99 L178.80 96.25 L179.14 96.46 L179.49 96.63 L179.83 96.75 L180.17 96.81 L180.51 96.80 L180.85 96.75 L181.19 96.66 L181.53 96.54 L181.87 96.41 L182.22 96.25 L182.56 96.07 L182.90 95.88 L183.24 95.68 L183.58 95.47 L183.92 95.26 L184.26 95.04 L184.61 94.81 L184.95 94.57 L185.29 94.31 L185.63 94.04 L185.97 93.77 L186.31 93.49 L186.65 93.20 L186.99 92.92 L187.34 92.63 L187.68 92.36 L188.02 92.09 L188.36 91.83 L188.70 91.58 L189.04 91.36 L189.38 91.14 L189.73 90.95 L190.07 90.76 L190.41 90.57 L190.75 90.39 L191.09 90.20 L191.43 90.03 L191.77 89.85 L192.11 89.69 L192.46 89.53 L192.80 89.39 L193.14 89.25 L193.48 89.13 L193.82 89.02 L194.16 88.93 L194.50 88.86 L194.85 88.80 L195.19 88.75 L195.53 88.71 L195.87 88.66 L196.21 88.61 L196.55 88.57 L196.89 88.53 L197.23 88.49 L197.58 88.45 L197.92 88.42 L198.26 88.39 L198.60 88.36 L198.94 88.34 L199.28 88.32 L199.62 88.31 L199.97 88.30 L200.31 88.30 L200.65 88.30 L200.99 88.30 L201.33 88.30 L201.67 88.30 L202.01 88.30 L202.35 88.30 L202.70 88.30 L203.04 88.30 L203.38 88.30 L203.72 88.30 L204.06 88.30 L204.40 88.30 L204.74 88.30 L205.08 88.30 L205.43 88.30 L205.77 88.30 L206.11 88.30 L206.45 88.30 L206.79 88.30 L207.13 88.30 L207.47 88.30 L207.82 88.30 L208.16 88.30 L208.50 88.30 L208.84 88.30 L209.18 88.30 L209.52 88.30 L209.86 88.30 L210.20 88.30 L210.55 88.30 L210.89 88.30 L211.23 88.30 L211.57 88.30 L211.91 88.30 L212.25 88.30 L212.59 88.30 L212.94 88.30 L213.28 88.30 L213.62 88.30 L213.96 88.30 L214.30 88.30 L214.64 88.30 L214.98 88.30 L215.32 88.30 L215.67 88.30 L216.01 88.30 L216.35 88.30 L216.69 88.30 L217.03 88.30 L217.37 88.30 L217.71 88.30 L218.06 88.30 L218.40 88.30 L218.74 88.30 L219.08 88.30 L219.42 88.30 L219.76 88.30 L220.10 88.30 L220.44 88.30 L220.79 88.30 L221.13 88.30 L221.47 88.30 L221.81 88.30 L222.15 88.30 L222.49 88.30 L222.83 88.30 L223.18 88.30 L223.52 88.30 L223.86 88.30 L224.20 88.30 L224.54 88.30 L224.88 88.30 L225.22 88.30 L225.56 88.30 L225.91 88.30 L226.25 88.30 L226.59 88.30 L226.93 88.30 L227.27 88.30 L227.61 88.30 L227.95 88.30 L228.29 88.30 L228.64 88.30 L228.98 88.30 L229.32 88.30 L229.66 88.30 L230.00 88.30 L230.34 88.30 L230.68 88.30 L231.03 88.30 L231.37 88.30 L231.71 88.30 L232.05 88.30 L232.39 88.30 L232.73 88.30 L233.07 88.30 L233.41 88.30 L233.76 88.30 L234.10 88.30 L234.44 88.30 L234.78 88.30 L235.12 88.30 L235.46 88.30 L235.80 88.30 L236.15 88.30 L236.49 88.30 L236.83 88.30 L237.17 88.30 L237.51 88.30 L237.85 88.30 L238.19 88.30 L238.53 88.30 L238.88 88.30 L239.22 88.30 L239.56 88.30 L239.90 88.30" fill="none" stroke="#0b6fc4" stroke-width="1.5" stroke-linejoin="round"/>
<path d="M49.10 13.30 V163.30 H261.10" fill="none" stroke="#cfcfcf" stroke-width="1.2"/>
<path d="M49.10 163.30 v-1.8 M75.60 163.30 v-1.8 M102.10 163.30 v-1.8 M128.60 163.30 v-1.8 M155.10 163.30 v-1.8 M181.60 163.30 v-1.8 M208.10 163.30 v-1.8 M234.60 163.30 v-1.8 M261.10 163.30 v-1.8 M49.10 13.30 h1.8 M49.10 38.30 h1.8 M49.10 63.30 h1.8 M49.10 88.30 h1.8 M49.10 113.30 h1.8 M49.10 138.30 h1.8 M49.10 163.30 h1.8" fill="none" stroke="#8a8a8a" stroke-width="0.8"/>
<text class="t" x="49.10" y="172.20" font-size="8.8" text-anchor="middle">0</text>
<text class="t" x="75.60" y="172.20" font-size="8.8" text-anchor="middle">1</text>
<text class="t" x="102.10" y="172.20" font-size="8.8" text-anchor="middle">2</text>
<text class="t" x="128.60" y="172.20" font-size="8.8" text-anchor="middle">3</text>
<text class="t" x="155.10" y="172.20" font-size="8.8" text-anchor="middle">4</text>
<text class="t" x="181.60" y="172.20" font-size="8.8" text-anchor="middle">5</text>
<text class="t" x="208.10" y="172.20" font-size="8.8" text-anchor="middle">6</text>
<text class="t" x="234.60" y="172.20" font-size="8.8" text-anchor="middle">7</text>
<text class="t" x="261.10" y="172.20" font-size="8.8" text-anchor="middle">8</text>
<text class="t" x="47.80" y="16.20" font-size="8.8" text-anchor="end">300</text>
<text class="t" x="47.80" y="41.20" font-size="8.8" text-anchor="end">200</text>
<text class="t" x="47.80" y="66.20" font-size="8.8" text-anchor="end">100</text>
<text class="t" x="47.80" y="91.20" font-size="8.8" text-anchor="end">0</text>
<text class="t" x="47.80" y="116.20" font-size="8.8" text-anchor="end">-100</text>
<text class="t" x="47.80" y="141.20" font-size="8.8" text-anchor="end">-200</text>
<text class="t" x="47.80" y="166.20" font-size="8.8" text-anchor="end">-300</text>
<text class="t" x="156.15" y="180.70" font-size="8.7" text-anchor="middle" textLength="20.7" lengthAdjust="spacingAndGlyphs">time/s</text>
<text class="t" transform="translate(28.20 88.30) rotate(-90)" font-size="8.7" text-anchor="middle" textLength="60.3" lengthAdjust="spacingAndGlyphs">wheel torque/Nm</text>
<path d="M160.00 35.30 H171.50" fill="none" stroke="#ff7fbf" stroke-width="1.0" stroke-dasharray="1.1 1.1"/>
<text class="t" x="172.70" y="37.90" font-size="8.7" textLength="86.5" lengthAdjust="spacingAndGlyphs" xml:space="preserve">torque of left front wheel</text>
<path d="M160.00 46.00 H171.50" fill="none" stroke="#ff0000" stroke-width="1.1" stroke-dasharray="3.2 1.6"/>
<text class="t" x="172.70" y="48.60" font-size="8.7" textLength="91" lengthAdjust="spacingAndGlyphs" xml:space="preserve">torque of right front wheel</text>
<path d="M160.00 56.90 H171.50" fill="none" stroke="#6aa818" stroke-width="1.2" stroke-dasharray="3 0.8 1 0.8"/>
<text class="t" x="172.70" y="59.50" font-size="8.7" textLength="83" lengthAdjust="spacingAndGlyphs" xml:space="preserve">torque of left rear wheel</text>
<path d="M160.00 67.00 H171.50" fill="none" stroke="#0b6fc4" stroke-width="1.5"/>
<text class="t" x="172.70" y="69.60" font-size="8.7" textLength="88" lengthAdjust="spacingAndGlyphs" xml:space="preserve">torque of right rear wheel</text>
<text class="cap" x="136.20" y="202.30" font-size="13" font-weight="bold" text-anchor="middle">(e)</text>
</g>
<g class="plot" id="plot-f">
<path d="M322.20 85.65 L322.56 85.65 L322.91 85.65 L323.27 85.65 L323.62 85.65 L323.98 85.65 L324.33 85.65 L324.69 85.65 L325.04 85.65 L325.40 85.65 L325.75 85.65 L326.11 85.65 L326.47 85.65 L326.82 85.65 L327.18 85.65 L327.53 85.65 L327.89 85.65 L328.24 85.65 L328.60 85.65 L328.95 85.65 L329.31 85.65 L329.67 85.65 L330.02 85.65 L330.38 85.65 L330.73 85.65 L331.09 85.65 L331.44 85.65 L331.80 85.65 L332.15 85.65 L332.51 85.65 L332.86 85.65 L333.22 85.65 L333.58 85.65 L333.93 85.65 L334.29 85.65 L334.64 85.65 L335.00 85.65 L335.35 85.65 L335.71 85.65 L336.06 85.65 L336.42 85.65 L336.78 85.65 L337.13 85.65 L337.49 85.65 L337.84 85.65 L338.20 85.65 L338.55 85.65 L338.91 85.65 L339.26 85.65 L339.62 85.65 L339.97 85.65 L340.33 85.65 L340.69 85.65 L341.04 85.65 L341.40 85.65 L341.75 85.65 L342.11 85.65 L342.46 85.65 L342.82 85.65 L343.17 85.65 L343.53 85.65 L343.89 85.65 L344.24 85.65 L344.60 85.65 L344.95 85.65 L345.31 85.65 L345.66 85.65 L346.02 85.65 L346.37 85.65 L346.73 85.65 L347.08 85.65 L347.44 85.65 L347.80 85.65 L348.15 85.65 L348.51 85.65 L348.86 85.65 L349.22 85.65 L349.57 85.65 L349.93 85.65 L350.28 85.66 L350.64 85.68 L350.99 85.70 L351.35 85.73 L351.71 85.76 L352.06 85.78 L352.42 85.84 L352.77 85.94 L353.13 86.07 L353.48 86.22 L353.84 86.38 L354.19 86.60 L354.55 87.00 L354.91 87.53 L355.26 88.15 L355.62 88.82 L355.97 89.50 L356.33 90.32 L356.68 91.30 L357.04 92.39 L357.39 93.55 L357.75 94.77 L358.10 96.19 L358.46 97.79 L358.82 99.52 L359.17 101.41 L359.53 103.50 L359.88 105.76 L360.24 108.12 L360.59 110.55 L360.95 113.00 L361.30 115.52 L361.66 118.12 L362.02 120.78 L362.37 123.48 L362.73 126.21 L363.08 128.94 L363.44 131.84 L363.79 134.91 L364.15 137.96 L364.50 140.83 L364.86 143.33 L365.21 145.39 L365.57 147.20 L365.93 148.65 L366.28 149.65 L366.64 150.07 L366.99 149.69 L367.35 148.49 L367.70 146.66 L368.06 144.40 L368.41 141.83 L368.77 138.51 L369.12 134.54 L369.48 130.27 L369.84 126.04 L370.19 122.02 L370.55 117.89 L370.90 113.71 L371.26 109.60 L371.61 105.65 L371.97 101.97 L372.32 98.53 L372.68 95.25 L373.04 92.09 L373.39 89.00 L373.75 85.90 L374.10 82.80 L374.46 79.76 L374.81 76.83 L375.17 74.09 L375.52 71.43 L375.88 68.79 L376.23 66.35 L376.59 64.33 L376.95 62.87 L377.30 61.69 L377.66 60.64 L378.01 59.80 L378.37 59.20 L378.72 58.83 L379.08 58.50 L379.43 58.29 L379.79 58.30 L380.15 58.50 L380.50 58.80 L380.86 59.09 L381.21 59.29 L381.57 59.24 L381.92 58.83 L382.28 58.14 L382.63 57.25 L382.99 56.22 L383.34 54.69 L383.70 52.70 L384.06 50.55 L384.41 48.51 L384.77 46.37 L385.12 44.19 L385.48 42.24 L385.83 40.71 L386.19 39.53 L386.54 38.74 L386.90 38.41 L387.26 38.71 L387.61 39.85 L387.97 41.62 L388.32 43.72 L388.68 46.08 L389.03 49.05 L389.39 52.39 L389.74 55.77 L390.10 58.87 L390.45 61.41 L390.81 63.66 L391.17 65.80 L391.52 67.79 L391.88 69.61 L392.23 71.24 L392.59 72.64 L392.94 73.90 L393.30 75.11 L393.65 76.22 L394.01 77.22 L394.36 78.05 L394.72 78.74 L395.08 79.36 L395.43 79.80 L395.79 79.94 L396.14 79.84 L396.50 79.56 L396.85 79.12 L397.21 78.55 L397.56 77.89 L397.92 77.16 L398.28 76.36 L398.63 75.24 L398.99 73.84 L399.34 72.25 L399.70 70.56 L400.05 68.86 L400.41 67.07 L400.76 65.13 L401.12 63.11 L401.47 61.07 L401.83 59.09 L402.19 57.23 L402.54 55.47 L402.90 53.69 L403.25 51.96 L403.61 50.34 L403.96 48.89 L404.32 47.68 L404.67 46.74 L405.03 45.99 L405.39 45.43 L405.74 45.07 L406.10 44.92 L406.45 45.00 L406.81 45.47 L407.16 46.34 L407.52 47.53 L407.87 48.97 L408.23 50.57 L408.58 52.44 L408.94 54.87 L409.30 57.68 L409.65 60.72 L410.01 63.82 L410.36 66.81 L410.72 69.82 L411.07 72.90 L411.43 76.06 L411.78 79.31 L412.14 82.64 L412.49 86.07 L412.85 89.87 L413.21 94.00 L413.56 98.18 L413.92 102.13 L414.27 105.58 L414.63 108.45 L414.98 111.20 L415.34 113.75 L415.69 116.02 L416.05 117.90 L416.41 119.30 L416.76 120.20 L417.12 120.97 L417.47 121.66 L417.83 122.25 L418.18 122.69 L418.54 122.95 L418.89 123.13 L419.25 123.28 L419.60 123.32 L419.96 123.17 L420.32 122.85 L420.67 122.42 L421.03 121.93 L421.38 121.40 L421.74 120.86 L422.09 120.36 L422.45 119.81 L422.80 119.13 L423.16 118.37 L423.52 117.58 L423.87 116.84 L424.23 116.19 L424.58 115.70 L424.94 115.42 L425.29 116.23 L425.65 122.98 L426.00 130.44 L426.36 136.38 L426.71 142.07 L427.07 146.83 L427.43 150.64 L427.78 153.46 L428.14 154.32 L428.49 152.29 L428.85 147.78 L429.20 142.25 L429.56 136.43 L429.91 129.66 L430.27 122.53 L430.63 115.72 L430.98 109.88 L431.34 104.49 L431.69 99.29 L432.05 94.79 L432.40 91.48 L432.76 89.68 L433.11 88.29 L433.47 87.12 L433.82 86.23 L434.18 85.71 L434.54 85.47 L434.89 85.24 L435.25 85.01 L435.60 84.80 L435.96 84.61 L436.31 84.46 L436.67 84.36 L437.02 84.29 L437.38 84.21 L437.73 84.13 L438.09 84.06 L438.45 84.00 L438.80 83.97 L439.16 83.98 L439.51 84.02 L439.87 84.11 L440.22 84.26 L440.58 84.44 L440.93 84.66 L441.29 84.90 L441.65 85.16 L442.00 85.44 L442.36 85.72 L442.71 86.00 L443.07 86.28 L443.42 86.54 L443.78 86.79 L444.13 87.05 L444.49 87.34 L444.84 87.63 L445.20 87.93 L445.56 88.23 L445.91 88.52 L446.27 88.79 L446.62 89.03 L446.98 89.24 L447.33 89.41 L447.69 89.54 L448.04 89.58 L448.40 89.48 L448.76 89.24 L449.11 88.90 L449.47 88.48 L449.82 87.99 L450.18 87.46 L450.53 86.91 L450.89 86.35 L451.24 85.83 L451.60 85.31 L451.95 84.71 L452.31 84.05 L452.67 83.36 L453.02 82.65 L453.38 81.95 L453.73 81.29 L454.09 80.70 L454.44 80.19 L454.80 79.79 L455.15 79.42 L455.51 79.05 L455.86 78.70 L456.22 78.37 L456.58 78.06 L456.93 77.78 L457.29 77.54 L457.64 77.33 L458.00 77.18 L458.35 77.07 L458.71 77.02 L459.06 77.04 L459.42 77.11 L459.78 77.20 L460.13 77.32 L460.49 77.47 L460.84 77.63 L461.20 77.81 L461.55 78.01 L461.91 78.22 L462.26 78.43 L462.62 78.65 L462.97 78.88 L463.33 79.11 L463.69 79.37 L464.04 79.64 L464.40 79.92 L464.75 80.22 L465.11 80.52 L465.46 80.82 L465.82 81.12 L466.17 81.42 L466.53 81.71 L466.89 81.99 L467.24 82.26 L467.60 82.51 L467.95 82.74 L468.31 82.95 L468.66 83.14 L469.02 83.32 L469.37 83.50 L469.73 83.67 L470.08 83.84 L470.44 84.01 L470.80 84.16 L471.15 84.31 L471.51 84.46 L471.86 84.59 L472.22 84.71 L472.57 84.82 L472.93 84.92 L473.28 85.00 L473.64 85.07 L474.00 85.13 L474.35 85.17 L474.71 85.22 L475.06 85.27 L475.42 85.32 L475.77 85.36 L476.13 85.41 L476.48 85.45 L476.84 85.49 L477.19 85.52 L477.55 85.56 L477.91 85.59 L478.26 85.61 L478.62 85.63 L478.97 85.64 L479.33 85.65 L479.68 85.65 L480.04 85.65 L480.39 85.65 L480.75 85.65 L481.10 85.65 L481.46 85.65 L481.82 85.65 L482.17 85.65 L482.53 85.65 L482.88 85.65 L483.24 85.65 L483.59 85.65 L483.95 85.65 L484.30 85.65 L484.66 85.65 L485.02 85.65 L485.37 85.65 L485.73 85.65 L486.08 85.65 L486.44 85.65 L486.79 85.65 L487.15 85.65 L487.50 85.65 L487.86 85.65 L488.21 85.65 L488.57 85.65 L488.93 85.65 L489.28 85.65 L489.64 85.65 L489.99 85.65 L490.35 85.65 L490.70 85.65 L491.06 85.65 L491.41 85.65 L491.77 85.65 L492.13 85.65 L492.48 85.65 L492.84 85.65 L493.19 85.65 L493.55 85.65 L493.90 85.65 L494.26 85.65 L494.61 85.65 L494.97 85.65 L495.32 85.65 L495.68 85.65 L496.04 85.65 L496.39 85.65 L496.75 85.65 L497.10 85.65 L497.46 85.65 L497.81 85.65 L498.17 85.65 L498.52 85.65 L498.88 85.65 L499.23 85.65 L499.59 85.65 L499.95 85.65 L500.30 85.65 L500.66 85.65 L501.01 85.65 L501.37 85.65 L501.72 85.65 L502.08 85.65 L502.43 85.65 L502.79 85.65 L503.15 85.65 L503.50 85.65 L503.86 85.65 L504.21 85.65 L504.57 85.65 L504.92 85.65 L505.28 85.65 L505.63 85.65 L505.99 85.65 L506.34 85.65 L506.70 85.65 L507.06 85.65 L507.41 85.65 L507.77 85.65 L508.12 85.65 L508.48 85.65 L508.83 85.65 L509.19 85.65 L509.54 85.65 L509.90 85.65 L510.26 85.65 L510.61 85.65 L510.97 85.65 L511.32 85.65 L511.68 85.65 L512.03 85.65 L512.39 85.65 L512.74 85.65 L513.10 85.65 L513.45 85.65 L513.81 85.65 L514.17 85.65 L514.52 85.65 L514.88 85.65 L515.23 85.65 L515.59 85.65 L515.94 85.65 L516.30 85.65 L516.65 85.65 L517.01 85.65 L517.37 85.65 L517.72 85.65 L518.08 85.65 L518.43 85.65 L518.79 85.65 L519.14 85.65 L519.50 85.65 L519.85 85.65 L520.21 85.65 L520.56 85.65 L520.92 85.65" fill="none" stroke="#ff00e6" stroke-width="1.2" stroke-linejoin="round" stroke-dasharray="3 0.8 1 0.8"/>
<path d="M322.20 85.65 L322.56 85.65 L322.91 85.65 L323.27 85.65 L323.62 85.65 L323.98 85.65 L324.33 85.65 L324.69 85.65 L325.04 85.65 L325.40 85.65 L325.75 85.65 L326.11 85.65 L326.47 85.65 L326.82 85.65 L327.18 85.65 L327.53 85.65 L327.89 85.65 L328.24 85.65 L328.60 85.65 L328.95 85.65 L329.31 85.65 L329.67 85.65 L330.02 85.65 L330.38 85.65 L330.73 85.65 L331.09 85.65 L331.44 85.65 L331.80 85.65 L332.15 85.65 L332.51 85.65 L332.86 85.65 L333.22 85.65 L333.58 85.65 L333.93 85.65 L334.29 85.65 L334.64 85.65 L335.00 85.65 L335.35 85.65 L335.71 85.65 L336.06 85.65 L336.42 85.65 L336.78 85.65 L337.13 85.65 L337.49 85.65 L337.84 85.65 L338.20 85.65 L338.55 85.65 L338.91 85.65 L339.26 85.65 L339.62 85.65 L339.97 85.65 L340.33 85.65 L340.69 85.65 L341.04 85.65 L341.40 85.65 L341.75 85.65 L342.11 85.65 L342.46 85.65 L342.82 85.65 L343.17 85.65 L343.53 85.65 L343.89 85.65 L344.24 85.65 L344.60 85.65 L344.95 85.65 L345.31 85.65 L345.66 85.65 L346.02 85.65 L346.37 85.65 L346.73 85.65 L347.08 85.65 L347.44 85.65 L347.80 85.65 L348.15 85.65 L348.51 85.65 L348.86 85.65 L349.22 85.65 L349.57 85.65 L349.93 85.65 L350.28 85.64 L350.64 85.62 L350.99 85.60 L351.35 85.57 L351.71 85.54 L352.06 85.52 L352.42 85.46 L352.77 85.36 L353.13 85.23 L353.48 85.08 L353.84 84.91 L354.19 84.71 L354.55 84.39 L354.91 83.96 L355.26 83.46 L355.62 82.92 L355.97 82.36 L356.33 81.67 L356.68 80.84 L357.04 79.93 L357.39 78.97 L357.75 77.98 L358.10 76.87 L358.46 75.64 L358.82 74.28 L359.17 72.79 L359.53 71.10 L359.88 69.28 L360.24 67.35 L360.59 65.38 L360.95 63.40 L361.30 61.36 L361.66 59.26 L362.02 57.10 L362.37 54.92 L362.73 52.71 L363.08 50.49 L363.44 48.13 L363.79 45.63 L364.15 43.14 L364.50 40.81 L364.86 38.78 L365.21 37.12 L365.57 35.70 L365.93 34.56 L366.28 33.80 L366.64 33.49 L366.99 33.81 L367.35 34.79 L367.70 36.28 L368.06 38.14 L368.41 40.27 L368.77 43.04 L369.12 46.35 L369.48 49.88 L369.84 53.33 L370.19 56.55 L370.55 59.80 L370.90 63.05 L371.26 66.25 L371.61 69.35 L371.97 72.28 L372.32 75.00 L372.68 77.56 L373.04 80.10 L373.39 82.71 L373.75 85.50 L374.10 88.45 L374.46 91.46 L374.81 94.41 L375.17 97.21 L375.52 99.95 L375.88 102.72 L376.23 105.29 L376.59 107.44 L376.95 108.96 L377.30 110.21 L377.66 111.29 L378.01 112.13 L378.37 112.67 L378.72 112.89 L379.08 113.07 L379.43 113.23 L379.79 113.39 L380.15 113.55 L380.50 113.71 L380.86 113.86 L381.21 114.02 L381.57 114.19 L381.92 114.45 L382.28 115.36 L382.63 116.96 L382.99 119.01 L383.34 121.32 L383.70 123.96 L384.06 127.66 L384.41 131.84 L384.77 135.87 L385.12 139.07 L385.48 141.55 L385.83 143.77 L386.19 145.59 L386.54 146.87 L386.90 147.46 L387.26 147.14 L387.61 145.64 L387.97 143.21 L388.32 140.18 L388.68 136.87 L389.03 132.93 L389.39 127.93 L389.74 122.61 L390.10 117.77 L390.45 114.13 L390.81 111.11 L391.17 108.31 L391.52 105.77 L391.88 103.50 L392.23 101.56 L392.59 99.96 L392.94 98.54 L393.30 97.14 L393.65 95.87 L394.01 94.78 L394.36 93.97 L394.72 93.45 L395.08 93.01 L395.43 92.67 L395.79 92.46 L396.14 92.43 L396.50 92.60 L396.85 93.00 L397.21 93.58 L397.56 94.29 L397.92 95.12 L398.28 96.06 L398.63 97.37 L398.99 99.01 L399.34 100.87 L399.70 102.83 L400.05 104.80 L400.41 106.87 L400.76 109.09 L401.12 111.42 L401.47 113.76 L401.83 116.04 L402.19 118.20 L402.54 120.26 L402.90 122.35 L403.25 124.40 L403.61 126.32 L403.96 128.06 L404.32 129.53 L404.67 130.70 L405.03 131.66 L405.39 132.39 L405.74 132.89 L406.10 133.12 L406.45 133.08 L406.81 132.56 L407.16 131.55 L407.52 130.14 L407.87 128.44 L408.23 126.54 L408.58 124.33 L408.94 121.48 L409.30 118.17 L409.65 114.60 L410.01 110.96 L410.36 107.44 L410.72 103.83 L411.07 100.10 L411.43 96.32 L411.78 92.53 L412.14 88.82 L412.49 85.22 L412.85 81.62 L413.21 77.99 L413.56 74.47 L413.92 71.17 L414.27 68.22 L414.63 65.64 L414.98 63.14 L415.34 60.79 L415.69 58.67 L416.05 56.85 L416.41 55.44 L416.76 54.43 L417.12 53.54 L417.47 52.73 L417.83 52.04 L418.18 51.52 L418.54 51.22 L418.89 51.01 L419.25 50.85 L419.60 50.82 L419.96 51.01 L420.32 51.36 L420.67 51.79 L421.03 52.28 L421.38 52.80 L421.74 53.32 L422.09 53.81 L422.45 54.32 L422.80 54.92 L423.16 55.55 L423.52 56.19 L423.87 56.79 L424.23 57.31 L424.58 57.71 L424.94 57.95 L425.29 57.50 L425.65 53.37 L426.00 48.87 L426.36 45.40 L426.71 42.11 L427.07 39.30 L427.43 36.93 L427.78 35.13 L428.14 34.50 L428.49 35.81 L428.85 39.01 L429.20 42.98 L429.56 47.16 L429.91 52.04 L430.27 57.20 L430.63 62.17 L430.98 66.50 L431.34 70.54 L431.69 74.47 L432.05 77.92 L432.40 80.52 L432.76 82.06 L433.11 83.29 L433.47 84.32 L433.82 85.11 L434.18 85.59 L434.54 85.83 L434.89 86.06 L435.25 86.29 L435.60 86.50 L435.96 86.69 L436.31 86.84 L436.67 86.94 L437.02 87.01 L437.38 87.09 L437.73 87.17 L438.09 87.24 L438.45 87.30 L438.80 87.33 L439.16 87.33 L439.51 87.28 L439.87 87.19 L440.22 87.04 L440.58 86.86 L440.93 86.64 L441.29 86.40 L441.65 86.14 L442.00 85.86 L442.36 85.58 L442.71 85.30 L443.07 85.02 L443.42 84.76 L443.78 84.51 L444.13 84.25 L444.49 83.96 L444.84 83.67 L445.20 83.37 L445.56 83.07 L445.91 82.78 L446.27 82.51 L446.62 82.27 L446.98 82.06 L447.33 81.89 L447.69 81.76 L448.04 81.72 L448.40 81.82 L448.76 82.06 L449.11 82.40 L449.47 82.82 L449.82 83.31 L450.18 83.84 L450.53 84.39 L450.89 84.95 L451.24 85.47 L451.60 85.99 L451.95 86.59 L452.31 87.25 L452.67 87.94 L453.02 88.65 L453.38 89.35 L453.73 90.01 L454.09 90.60 L454.44 91.11 L454.80 91.51 L455.15 91.88 L455.51 92.25 L455.86 92.60 L456.22 92.93 L456.58 93.24 L456.93 93.52 L457.29 93.76 L457.64 93.97 L458.00 94.12 L458.35 94.23 L458.71 94.28 L459.06 94.26 L459.42 94.19 L459.78 94.10 L460.13 93.98 L460.49 93.83 L460.84 93.67 L461.20 93.49 L461.55 93.29 L461.91 93.08 L462.26 92.87 L462.62 92.65 L462.97 92.42 L463.33 92.19 L463.69 91.93 L464.04 91.66 L464.40 91.38 L464.75 91.08 L465.11 90.78 L465.46 90.48 L465.82 90.18 L466.17 89.88 L466.53 89.59 L466.89 89.31 L467.24 89.04 L467.60 88.79 L467.95 88.56 L468.31 88.35 L468.66 88.16 L469.02 87.98 L469.37 87.80 L469.73 87.63 L470.08 87.46 L470.44 87.29 L470.80 87.14 L471.15 86.99 L471.51 86.84 L471.86 86.71 L472.22 86.59 L472.57 86.48 L472.93 86.38 L473.28 86.30 L473.64 86.23 L474.00 86.17 L474.35 86.13 L474.71 86.08 L475.06 86.03 L475.42 85.98 L475.77 85.94 L476.13 85.89 L476.48 85.85 L476.84 85.81 L477.19 85.78 L477.55 85.74 L477.91 85.71 L478.26 85.69 L478.62 85.67 L478.97 85.66 L479.33 85.65 L479.68 85.65 L480.04 85.65 L480.39 85.65 L480.75 85.65 L481.10 85.65 L481.46 85.65 L481.82 85.65 L482.17 85.65 L482.53 85.65 L482.88 85.65 L483.24 85.65 L483.59 85.65 L483.95 85.65 L484.30 85.65 L484.66 85.65 L485.02 85.65 L485.37 85.65 L485.73 85.65 L486.08 85.65 L486.44 85.65 L486.79 85.65 L487.15 85.65 L487.50 85.65 L487.86 85.65 L488.21 85.65 L488.57 85.65 L488.93 85.65 L489.28 85.65 L489.64 85.65 L489.99 85.65 L490.35 85.65 L490.70 85.65 L491.06 85.65 L491.41 85.65 L491.77 85.65 L492.13 85.65 L492.48 85.65 L492.84 85.65 L493.19 85.65 L493.55 85.65 L493.90 85.65 L494.26 85.65 L494.61 85.65 L494.97 85.65 L495.32 85.65 L495.68 85.65 L496.04 85.65 L496.39 85.65 L496.75 85.65 L497.10 85.65 L497.46 85.65 L497.81 85.65 L498.17 85.65 L498.52 85.65 L498.88 85.65 L499.23 85.65 L499.59 85.65 L499.95 85.65 L500.30 85.65 L500.66 85.65 L501.01 85.65 L501.37 85.65 L501.72 85.65 L502.08 85.65 L502.43 85.65 L502.79 85.65 L503.15 85.65 L503.50 85.65 L503.86 85.65 L504.21 85.65 L504.57 85.65 L504.92 85.65 L505.28 85.65 L505.63 85.65 L505.99 85.65 L506.34 85.65 L506.70 85.65 L507.06 85.65 L507.41 85.65 L507.77 85.65 L508.12 85.65 L508.48 85.65 L508.83 85.65 L509.19 85.65 L509.54 85.65 L509.90 85.65 L510.26 85.65 L510.61 85.65 L510.97 85.65 L511.32 85.65 L511.68 85.65 L512.03 85.65 L512.39 85.65 L512.74 85.65 L513.10 85.65 L513.45 85.65 L513.81 85.65 L514.17 85.65 L514.52 85.65 L514.88 85.65 L515.23 85.65 L515.59 85.65 L515.94 85.65 L516.30 85.65 L516.65 85.65 L517.01 85.65 L517.37 85.65 L517.72 85.65 L518.08 85.65 L518.43 85.65 L518.79 85.65 L519.14 85.65 L519.50 85.65 L519.85 85.65 L520.21 85.65 L520.56 85.65 L520.92 85.65" fill="none" stroke="#8b1a9b" stroke-width="1.15" stroke-linejoin="round" stroke-dasharray="2.6 1.1"/>
<path d="M322.20 85.65 L322.56 85.65 L322.91 85.65 L323.27 85.65 L323.62 85.65 L323.98 85.65 L324.33 85.65 L324.69 85.65 L325.04 85.65 L325.40 85.65 L325.75 85.65 L326.11 85.65 L326.47 85.65 L326.82 85.65 L327.18 85.65 L327.53 85.65 L327.89 85.65 L328.24 85.65 L328.60 85.65 L328.95 85.65 L329.31 85.65 L329.67 85.65 L330.02 85.65 L330.38 85.65 L330.73 85.65 L331.09 85.65 L331.44 85.65 L331.80 85.65 L332.15 85.65 L332.51 85.65 L332.86 85.65 L333.22 85.65 L333.58 85.65 L333.93 85.65 L334.29 85.65 L334.64 85.65 L335.00 85.65 L335.35 85.65 L335.71 85.65 L336.06 85.65 L336.42 85.65 L336.78 85.65 L337.13 85.65 L337.49 85.65 L337.84 85.65 L338.20 85.65 L338.55 85.65 L338.91 85.65 L339.26 85.65 L339.62 85.65 L339.97 85.65 L340.33 85.65 L340.69 85.65 L341.04 85.65 L341.40 85.65 L341.75 85.65 L342.11 85.65 L342.46 85.65 L342.82 85.65 L343.17 85.65 L343.53 85.65 L343.89 85.65 L344.24 85.65 L344.60 85.65 L344.95 85.65 L345.31 85.65 L345.66 85.65 L346.02 85.65 L346.37 85.65 L346.73 85.65 L347.08 85.65 L347.44 85.65 L347.80 85.65 L348.15 85.65 L348.51 85.65 L348.86 85.65 L349.22 85.65 L349.57 85.65 L349.93 85.65 L350.28 85.66 L350.64 85.68 L350.99 85.70 L351.35 85.73 L351.71 85.76 L352.06 85.78 L352.42 85.84 L352.77 85.94 L353.13 86.07 L353.48 86.22 L353.84 86.39 L354.19 86.60 L354.55 86.95 L354.91 87.43 L355.26 87.99 L355.62 88.60 L355.97 89.22 L356.33 89.98 L356.68 90.91 L357.04 91.95 L357.39 93.05 L357.75 94.22 L358.10 95.58 L358.46 97.11 L358.82 98.77 L359.17 100.55 L359.53 102.51 L359.88 104.62 L360.24 106.83 L360.59 109.10 L360.95 111.39 L361.30 113.75 L361.66 116.18 L362.02 118.68 L362.37 121.21 L362.73 123.76 L363.08 126.32 L363.44 129.03 L363.79 131.89 L364.15 134.74 L364.50 137.41 L364.86 139.73 L365.21 141.64 L365.57 143.29 L365.93 144.62 L366.28 145.52 L366.64 145.89 L366.99 145.54 L367.35 144.43 L367.70 142.74 L368.06 140.64 L368.41 138.24 L368.77 135.10 L369.12 131.35 L369.48 127.32 L369.84 123.35 L370.19 119.60 L370.55 115.77 L370.90 111.92 L371.26 108.11 L371.61 104.44 L371.97 100.98 L372.32 97.88 L372.68 95.01 L373.04 92.15 L373.39 89.09 L373.75 85.64 L374.10 81.82 L374.46 77.83 L374.81 73.90 L375.17 70.23 L375.52 66.73 L375.88 63.22 L376.23 59.97 L376.59 57.21 L376.95 55.16 L377.30 53.46 L377.66 51.96 L378.01 50.74 L378.37 49.88 L378.72 49.35 L379.08 48.90 L379.43 48.63 L379.79 48.69 L380.15 49.04 L380.50 49.54 L380.86 50.05 L381.21 50.41 L381.57 50.41 L381.92 49.90 L382.28 48.97 L382.63 47.72 L382.99 46.20 L383.34 43.76 L383.70 40.51 L384.06 37.02 L384.41 33.83 L384.77 30.63 L385.12 27.43 L385.48 24.50 L385.83 22.06 L386.19 19.99 L386.54 18.44 L386.90 17.64 L387.26 17.91 L387.61 19.67 L387.97 22.49 L388.32 25.83 L388.68 29.51 L389.03 34.11 L389.39 39.25 L389.74 44.44 L390.10 49.20 L390.45 53.09 L390.81 56.55 L391.17 59.84 L391.52 62.90 L391.88 65.66 L392.23 68.06 L392.59 70.04 L392.94 71.77 L393.30 73.43 L393.65 74.93 L394.01 76.22 L394.36 77.24 L394.72 77.98 L395.08 78.61 L395.43 79.04 L395.79 79.14 L396.14 78.99 L396.50 78.63 L396.85 78.09 L397.21 77.40 L397.56 76.59 L397.92 75.70 L398.28 74.67 L398.63 73.12 L398.99 71.14 L399.34 68.88 L399.70 66.49 L400.05 64.13 L400.41 61.69 L400.76 59.07 L401.12 56.34 L401.47 53.61 L401.83 50.95 L402.19 48.46 L402.54 46.08 L402.90 43.69 L403.25 41.36 L403.61 39.17 L403.96 37.21 L404.32 35.56 L404.67 34.26 L405.03 33.21 L405.39 32.41 L405.74 31.88 L406.10 31.64 L406.45 31.71 L406.81 32.31 L407.16 33.45 L407.52 35.06 L407.87 37.01 L408.23 39.21 L408.58 41.80 L408.94 45.15 L409.30 49.03 L409.65 53.19 L410.01 57.39 L410.36 61.40 L410.72 65.38 L411.07 69.41 L411.43 73.51 L411.78 77.67 L412.14 81.89 L412.49 86.17 L412.85 90.78 L413.21 95.67 L413.56 100.57 L413.92 105.20 L414.27 109.30 L414.63 112.79 L414.98 116.14 L415.34 119.27 L415.69 122.06 L416.05 124.41 L416.41 126.19 L416.76 127.37 L417.12 128.40 L417.47 129.33 L417.83 130.11 L418.18 130.69 L418.54 131.04 L418.89 131.26 L419.25 131.42 L419.60 131.44 L419.96 131.24 L420.32 130.83 L420.67 130.26 L421.03 129.58 L421.38 128.85 L421.74 128.11 L422.09 127.41 L422.45 126.61 L422.80 125.56 L423.16 124.36 L423.52 123.10 L423.87 121.90 L424.23 120.85 L424.58 120.05 L424.94 119.61 L425.29 120.25 L425.65 125.71 L426.00 131.64 L426.36 136.23 L426.71 140.57 L427.07 144.24 L427.43 147.24 L427.78 149.44 L428.14 150.13 L428.49 148.33 L428.85 144.17 L429.20 139.03 L429.56 133.60 L429.91 127.24 L430.27 120.52 L430.63 114.10 L430.98 108.61 L431.34 103.58 L431.69 98.75 L432.05 94.55 L432.40 91.44 L432.76 89.69 L433.11 88.31 L433.47 87.13 L433.82 86.24 L434.18 85.71 L434.54 85.47 L434.89 85.24 L435.25 85.01 L435.60 84.80 L435.96 84.61 L436.31 84.46 L436.67 84.36 L437.02 84.29 L437.38 84.21 L437.73 84.13 L438.09 84.06 L438.45 84.00 L438.80 83.97 L439.16 83.98 L439.51 84.02 L439.87 84.11 L440.22 84.26 L440.58 84.44 L440.93 84.66 L441.29 84.90 L441.65 85.16 L442.00 85.44 L442.36 85.72 L442.71 86.00 L443.07 86.28 L443.42 86.54 L443.78 86.79 L444.13 87.05 L444.49 87.34 L444.84 87.63 L445.20 87.93 L445.56 88.23 L445.91 88.52 L446.27 88.79 L446.62 89.03 L446.98 89.24 L447.33 89.41 L447.69 89.54 L448.04 89.58 L448.40 89.48 L448.76 89.24 L449.11 88.90 L449.47 88.48 L449.82 87.99 L450.18 87.46 L450.53 86.91 L450.89 86.35 L451.24 85.83 L451.60 85.31 L451.95 84.71 L452.31 84.05 L452.67 83.36 L453.02 82.65 L453.38 81.95 L453.73 81.29 L454.09 80.70 L454.44 80.19 L454.80 79.79 L455.15 79.42 L455.51 79.05 L455.86 78.70 L456.22 78.37 L456.58 78.06 L456.93 77.78 L457.29 77.54 L457.64 77.33 L458.00 77.18 L458.35 77.07 L458.71 77.02 L459.06 77.04 L459.42 77.11 L459.78 77.20 L460.13 77.32 L460.49 77.47 L460.84 77.63 L461.20 77.81 L461.55 78.01 L461.91 78.22 L462.26 78.43 L462.62 78.65 L462.97 78.88 L463.33 79.11 L463.69 79.37 L464.04 79.64 L464.40 79.92 L464.75 80.22 L465.11 80.52 L465.46 80.82 L465.82 81.12 L466.17 81.42 L466.53 81.71 L466.89 81.99 L467.24 82.26 L467.60 82.51 L467.95 82.74 L468.31 82.95 L468.66 83.14 L469.02 83.32 L469.37 83.50 L469.73 83.67 L470.08 83.84 L470.44 84.01 L470.80 84.16 L471.15 84.31 L471.51 84.46 L471.86 84.59 L472.22 84.71 L472.57 84.82 L472.93 84.92 L473.28 85.00 L473.64 85.07 L474.00 85.13 L474.35 85.17 L474.71 85.22 L475.06 85.27 L475.42 85.32 L475.77 85.36 L476.13 85.41 L476.48 85.45 L476.84 85.49 L477.19 85.52 L477.55 85.56 L477.91 85.59 L478.26 85.61 L478.62 85.63 L478.97 85.64 L479.33 85.65 L479.68 85.65 L480.04 85.65 L480.39 85.65 L480.75 85.65 L481.10 85.65 L481.46 85.65 L481.82 85.65 L482.17 85.65 L482.53 85.65 L482.88 85.65 L483.24 85.65 L483.59 85.65 L483.95 85.65 L484.30 85.65 L484.66 85.65 L485.02 85.65 L485.37 85.65 L485.73 85.65 L486.08 85.65 L486.44 85.65 L486.79 85.65 L487.15 85.65 L487.50 85.65 L487.86 85.65 L488.21 85.65 L488.57 85.65 L488.93 85.65 L489.28 85.65 L489.64 85.65 L489.99 85.65 L490.35 85.65 L490.70 85.65 L491.06 85.65 L491.41 85.65 L491.77 85.65 L492.13 85.65 L492.48 85.65 L492.84 85.65 L493.19 85.65 L493.55 85.65 L493.90 85.65 L494.26 85.65 L494.61 85.65 L494.97 85.65 L495.32 85.65 L495.68 85.65 L496.04 85.65 L496.39 85.65 L496.75 85.65 L497.10 85.65 L497.46 85.65 L497.81 85.65 L498.17 85.65 L498.52 85.65 L498.88 85.65 L499.23 85.65 L499.59 85.65 L499.95 85.65 L500.30 85.65 L500.66 85.65 L501.01 85.65 L501.37 85.65 L501.72 85.65 L502.08 85.65 L502.43 85.65 L502.79 85.65 L503.15 85.65 L503.50 85.65 L503.86 85.65 L504.21 85.65 L504.57 85.65 L504.92 85.65 L505.28 85.65 L505.63 85.65 L505.99 85.65 L506.34 85.65 L506.70 85.65 L507.06 85.65 L507.41 85.65 L507.77 85.65 L508.12 85.65 L508.48 85.65 L508.83 85.65 L509.19 85.65 L509.54 85.65 L509.90 85.65 L510.26 85.65 L510.61 85.65 L510.97 85.65 L511.32 85.65 L511.68 85.65 L512.03 85.65 L512.39 85.65 L512.74 85.65 L513.10 85.65 L513.45 85.65 L513.81 85.65 L514.17 85.65 L514.52 85.65 L514.88 85.65 L515.23 85.65 L515.59 85.65 L515.94 85.65 L516.30 85.65 L516.65 85.65 L517.01 85.65 L517.37 85.65 L517.72 85.65 L518.08 85.65 L518.43 85.65 L518.79 85.65 L519.14 85.65 L519.50 85.65 L519.85 85.65 L520.21 85.65 L520.56 85.65 L520.92 85.65" fill="none" stroke="#6aa818" stroke-width="1.2" stroke-linejoin="round" stroke-dasharray="3 0.8 1 0.8"/>
<path d="M322.20 85.65 L322.56 85.65 L322.91 85.65 L323.27 85.65 L323.62 85.65 L323.98 85.65 L324.33 85.65 L324.69 85.65 L325.04 85.65 L325.40 85.65 L325.75 85.65 L326.11 85.65 L326.47 85.65 L326.82 85.65 L327.18 85.65 L327.53 85.65 L327.89 85.65 L328.24 85.65 L328.60 85.65 L328.95 85.65 L329.31 85.65 L329.67 85.65 L330.02 85.65 L330.38 85.65 L330.73 85.65 L331.09 85.65 L331.44 85.65 L331.80 85.65 L332.15 85.65 L332.51 85.65 L332.86 85.65 L333.22 85.65 L333.58 85.65 L333.93 85.65 L334.29 85.65 L334.64 85.65 L335.00 85.65 L335.35 85.65 L335.71 85.65 L336.06 85.65 L336.42 85.65 L336.78 85.65 L337.13 85.65 L337.49 85.65 L337.84 85.65 L338.20 85.65 L338.55 85.65 L338.91 85.65 L339.26 85.65 L339.62 85.65 L339.97 85.65 L340.33 85.65 L340.69 85.65 L341.04 85.65 L341.40 85.65 L341.75 85.65 L342.11 85.65 L342.46 85.65 L342.82 85.65 L343.17 85.65 L343.53 85.65 L343.89 85.65 L344.24 85.65 L344.60 85.65 L344.95 85.65 L345.31 85.65 L345.66 85.65 L346.02 85.65 L346.37 85.65 L346.73 85.65 L347.08 85.65 L347.44 85.65 L347.80 85.65 L348.15 85.65 L348.51 85.65 L348.86 85.65 L349.22 85.65 L349.57 85.65 L349.93 85.65 L350.28 85.64 L350.64 85.62 L350.99 85.60 L351.35 85.57 L351.71 85.54 L352.06 85.52 L352.42 85.46 L352.77 85.36 L353.13 85.24 L353.48 85.08 L353.84 84.92 L354.19 84.68 L354.55 84.22 L354.91 83.60 L355.26 82.86 L355.62 82.06 L355.97 81.24 L356.33 80.27 L356.68 79.12 L357.04 77.84 L357.39 76.51 L357.75 75.13 L358.10 73.59 L358.46 71.88 L358.82 70.00 L359.17 67.91 L359.53 65.57 L359.88 63.02 L360.24 60.33 L360.59 57.58 L360.95 54.81 L361.30 51.97 L361.66 49.04 L362.02 46.04 L362.37 42.99 L362.73 39.92 L363.08 36.85 L363.44 33.59 L363.79 30.16 L364.15 26.74 L364.50 23.54 L364.86 20.75 L365.21 18.46 L365.57 16.48 L365.93 14.90 L366.28 13.84 L366.64 13.41 L366.99 13.86 L367.35 15.22 L367.70 17.29 L368.06 19.88 L368.41 22.83 L368.77 26.68 L369.12 31.26 L369.48 36.15 L369.84 40.93 L370.19 45.41 L370.55 49.95 L370.90 54.50 L371.26 58.97 L371.61 63.28 L371.97 67.34 L372.32 71.14 L372.68 74.77 L373.04 78.30 L373.39 81.84 L373.75 85.46 L374.10 89.16 L374.46 92.85 L374.81 96.43 L375.17 99.78 L375.52 103.02 L375.88 106.23 L376.23 109.19 L376.59 111.66 L376.95 113.47 L377.30 114.99 L377.66 116.33 L378.01 117.40 L378.37 118.10 L378.72 118.42 L379.08 118.65 L379.43 118.85 L379.79 119.05 L380.15 119.28 L380.50 119.54 L380.86 119.79 L381.21 120.07 L381.57 120.37 L381.92 120.72 L382.28 121.35 L382.63 122.28 L382.99 123.44 L383.34 124.78 L383.70 126.43 L384.06 128.83 L384.41 131.61 L384.77 134.31 L385.12 136.48 L385.48 138.13 L385.83 139.56 L386.19 140.62 L386.54 141.17 L386.90 141.08 L387.26 140.07 L387.61 138.28 L387.97 135.99 L388.32 133.45 L388.68 130.69 L389.03 127.28 L389.39 123.50 L389.74 119.67 L390.10 116.13 L390.45 113.19 L390.81 110.54 L391.17 108.01 L391.52 105.64 L391.88 103.48 L392.23 101.57 L392.59 99.96 L392.94 98.52 L393.30 97.12 L393.65 95.86 L394.01 94.79 L394.36 93.98 L394.72 93.44 L395.08 93.00 L395.43 92.66 L395.79 92.46 L396.14 92.43 L396.50 92.60 L396.85 93.00 L397.21 93.58 L397.56 94.29 L397.92 95.12 L398.28 96.06 L398.63 97.37 L398.99 99.01 L399.34 100.87 L399.70 102.83 L400.05 104.80 L400.41 106.87 L400.76 109.09 L401.12 111.42 L401.47 113.76 L401.83 116.04 L402.19 118.20 L402.54 120.26 L402.90 122.35 L403.25 124.40 L403.61 126.32 L403.96 128.06 L404.32 129.53 L404.67 130.70 L405.03 131.66 L405.39 132.39 L405.74 132.89 L406.10 133.12 L406.45 133.08 L406.81 132.56 L407.16 131.55 L407.52 130.14 L407.87 128.44 L408.23 126.54 L408.58 124.32 L408.94 121.46 L409.30 118.14 L409.65 114.57 L410.01 110.94 L410.36 107.46 L410.72 104.00 L411.07 100.47 L411.43 96.85 L411.78 93.11 L412.14 89.22 L412.49 85.14 L412.85 80.53 L413.21 75.41 L413.56 70.17 L413.92 65.17 L414.27 60.77 L414.63 57.08 L414.98 53.56 L415.34 50.26 L415.69 47.28 L416.05 44.72 L416.41 42.67 L416.76 41.16 L417.12 39.79 L417.47 38.53 L417.83 37.45 L418.18 36.61 L418.54 36.08 L418.89 35.70 L419.25 35.38 L419.60 35.23 L419.96 35.36 L420.32 35.71 L420.67 36.20 L421.03 36.78 L421.38 37.42 L421.74 38.06 L422.09 38.68 L422.45 39.40 L422.80 40.38 L423.16 41.52 L423.52 42.72 L423.87 43.86 L424.23 44.86 L424.58 45.60 L424.94 45.99 L425.29 45.27 L425.65 39.57 L426.00 33.08 L426.36 27.60 L426.71 22.19 L427.07 17.44 L427.43 13.39 L427.78 10.25 L428.14 8.96 L428.49 10.75 L428.85 15.54 L429.20 21.61 L429.56 28.14 L429.91 35.96 L430.27 44.28 L430.63 52.21 L430.98 58.88 L431.34 64.89 L431.69 70.63 L432.05 75.57 L432.40 79.19 L432.76 81.17 L433.11 82.70 L433.47 84.02 L433.82 85.01 L434.18 85.59 L434.54 85.83 L434.89 86.06 L435.25 86.29 L435.60 86.50 L435.96 86.69 L436.31 86.84 L436.67 86.94 L437.02 87.01 L437.38 87.08 L437.73 87.16 L438.09 87.24 L438.45 87.29 L438.80 87.32 L439.16 87.32 L439.51 87.28 L439.87 87.19 L440.22 87.04 L440.58 86.86 L440.93 86.64 L441.29 86.40 L441.65 86.14 L442.00 85.86 L442.36 85.58 L442.71 85.30 L443.07 85.02 L443.42 84.76 L443.78 84.51 L444.13 84.25 L444.49 83.96 L444.84 83.67 L445.20 83.37 L445.56 83.07 L445.91 82.78 L446.27 82.51 L446.62 82.27 L446.98 82.06 L447.33 81.89 L447.69 81.76 L448.04 81.72 L448.40 81.82 L448.76 82.06 L449.11 82.40 L449.47 82.82 L449.82 83.31 L450.18 83.84 L450.53 84.39 L450.89 84.95 L451.24 85.47 L451.60 85.99 L451.95 86.59 L452.31 87.25 L452.67 87.94 L453.02 88.65 L453.38 89.35 L453.73 90.01 L454.09 90.60 L454.44 91.11 L454.80 91.51 L455.15 91.88 L455.51 92.25 L455.86 92.60 L456.22 92.93 L456.58 93.24 L456.93 93.52 L457.29 93.76 L457.64 93.97 L458.00 94.12 L458.35 94.23 L458.71 94.28 L459.06 94.26 L459.42 94.19 L459.78 94.10 L460.13 93.98 L460.49 93.83 L460.84 93.67 L461.20 93.49 L461.55 93.29 L461.91 93.08 L462.26 92.87 L462.62 92.65 L462.97 92.42 L463.33 92.19 L463.69 91.93 L464.04 91.66 L464.40 91.38 L464.75 91.08 L465.11 90.78 L465.46 90.48 L465.82 90.18 L466.17 89.88 L466.53 89.59 L466.89 89.31 L467.24 89.04 L467.60 88.79 L467.95 88.56 L468.31 88.35 L468.66 88.16 L469.02 87.98 L469.37 87.80 L469.73 87.63 L470.08 87.46 L470.44 87.29 L470.80 87.14 L471.15 86.99 L471.51 86.84 L471.86 86.71 L472.22 86.59 L472.57 86.48 L472.93 86.38 L473.28 86.30 L473.64 86.23 L474.00 86.17 L474.35 86.13 L474.71 86.08 L475.06 86.03 L475.42 85.98 L475.77 85.94 L476.13 85.89 L476.48 85.85 L476.84 85.81 L477.19 85.78 L477.55 85.74 L477.91 85.71 L478.26 85.69 L478.62 85.67 L478.97 85.66 L479.33 85.65 L479.68 85.65 L480.04 85.65 L480.39 85.65 L480.75 85.65 L481.10 85.65 L481.46 85.65 L481.82 85.65 L482.17 85.65 L482.53 85.65 L482.88 85.65 L483.24 85.65 L483.59 85.65 L483.95 85.65 L484.30 85.65 L484.66 85.65 L485.02 85.65 L485.37 85.65 L485.73 85.65 L486.08 85.65 L486.44 85.65 L486.79 85.65 L487.15 85.65 L487.50 85.65 L487.86 85.65 L488.21 85.65 L488.57 85.65 L488.93 85.65 L489.28 85.65 L489.64 85.65 L489.99 85.65 L490.35 85.65 L490.70 85.65 L491.06 85.65 L491.41 85.65 L491.77 85.65 L492.13 85.65 L492.48 85.65 L492.84 85.65 L493.19 85.65 L493.55 85.65 L493.90 85.65 L494.26 85.65 L494.61 85.65 L494.97 85.65 L495.32 85.65 L495.68 85.65 L496.04 85.65 L496.39 85.65 L496.75 85.65 L497.10 85.65 L497.46 85.65 L497.81 85.65 L498.17 85.65 L498.52 85.65 L498.88 85.65 L499.23 85.65 L499.59 85.65 L499.95 85.65 L500.30 85.65 L500.66 85.65 L501.01 85.65 L501.37 85.65 L501.72 85.65 L502.08 85.65 L502.43 85.65 L502.79 85.65 L503.15 85.65 L503.50 85.65 L503.86 85.65 L504.21 85.65 L504.57 85.65 L504.92 85.65 L505.28 85.65 L505.63 85.65 L505.99 85.65 L506.34 85.65 L506.70 85.65 L507.06 85.65 L507.41 85.65 L507.77 85.65 L508.12 85.65 L508.48 85.65 L508.83 85.65 L509.19 85.65 L509.54 85.65 L509.90 85.65 L510.26 85.65 L510.61 85.65 L510.97 85.65 L511.32 85.65 L511.68 85.65 L512.03 85.65 L512.39 85.65 L512.74 85.65 L513.10 85.65 L513.45 85.65 L513.81 85.65 L514.17 85.65 L514.52 85.65 L514.88 85.65 L515.23 85.65 L515.59 85.65 L515.94 85.65 L516.30 85.65 L516.65 85.65 L517.01 85.65 L517.37 85.65 L517.72 85.65 L518.08 85.65 L518.43 85.65 L518.79 85.65 L519.14 85.65 L519.50 85.65 L519.85 85.65 L520.21 85.65 L520.56 85.65 L520.92 85.65" fill="none" stroke="#0000ff" stroke-width="1.35" stroke-linejoin="round"/>
<path d="M322.20 7.41 V163.89 H543.00" fill="none" stroke="#cfcfcf" stroke-width="1.2"/>
<path d="M322.20 163.89 v-1.8 M349.80 163.89 v-1.8 M377.40 163.89 v-1.8 M405.00 163.89 v-1.8 M432.60 163.89 v-1.8 M460.20 163.89 v-1.8 M487.80 163.89 v-1.8 M515.40 163.89 v-1.8 M543.00 163.89 v-1.8 M322.20 7.41 h1.8 M322.20 33.49 h1.8 M322.20 59.57 h1.8 M322.20 85.65 h1.8 M322.20 111.73 h1.8 M322.20 137.81 h1.8 M322.20 163.89 h1.8" fill="none" stroke="#8a8a8a" stroke-width="0.8"/>
<text class="t" x="322.20" y="172.90" font-size="8.8" text-anchor="middle">0</text>
<text class="t" x="349.80" y="172.90" font-size="8.8" text-anchor="middle">1</text>
<text class="t" x="377.40" y="172.90" font-size="8.8" text-anchor="middle">2</text>
<text class="t" x="405.00" y="172.90" font-size="8.8" text-anchor="middle">3</text>
<text class="t" x="432.60" y="172.90" font-size="8.8" text-anchor="middle">4</text>
<text class="t" x="460.20" y="172.90" font-size="8.8" text-anchor="middle">5</text>
<text class="t" x="487.80" y="172.90" font-size="8.8" text-anchor="middle">6</text>
<text class="t" x="515.40" y="172.90" font-size="8.8" text-anchor="middle">7</text>
<text class="t" x="543.00" y="172.90" font-size="8.8" text-anchor="middle">8</text>
<text class="t" x="320.90" y="10.31" font-size="8.8" text-anchor="end">300</text>
<text class="t" x="320.90" y="36.39" font-size="8.8" text-anchor="end">200</text>
<text class="t" x="320.90" y="62.47" font-size="8.8" text-anchor="end">100</text>
<text class="t" x="320.90" y="88.55" font-size="8.8" text-anchor="end">0</text>
<text class="t" x="320.90" y="114.63" font-size="8.8" text-anchor="end">-100</text>
<text class="t" x="320.90" y="140.71" font-size="8.8" text-anchor="end">-200</text>
<text class="t" x="320.90" y="166.79" font-size="8.8" text-anchor="end">-300</text>
<text class="t" x="432.15" y="181.40" font-size="8.7" text-anchor="middle" textLength="21.5" lengthAdjust="spacingAndGlyphs">time/s</text>
<text class="t" transform="translate(301.40 85.65) rotate(-90)" font-size="8.7" text-anchor="middle" textLength="60.3" lengthAdjust="spacingAndGlyphs">wheel torque/Nm</text>
<path d="M435.40 22.40 H447.00" fill="none" stroke="#ff00e6" stroke-width="1.2" stroke-dasharray="3 0.8 1 0.8"/>
<text class="t" x="447.80" y="25.00" font-size="8.7" textLength="88.5" lengthAdjust="spacingAndGlyphs" xml:space="preserve">torque of left front wheel</text>
<path d="M435.40 33.10 H447.00" fill="none" stroke="#8b1a9b" stroke-width="1.15" stroke-dasharray="2.6 1.1"/>
<text class="t" x="447.80" y="35.70" font-size="8.7" textLength="93.3" lengthAdjust="spacingAndGlyphs" xml:space="preserve">torque of right front wheel</text>
<path d="M435.40 44.00 H447.00" fill="none" stroke="#6aa818" stroke-width="1.2" stroke-dasharray="3 0.8 1 0.8"/>
<text class="t" x="447.80" y="46.60" font-size="8.7" textLength="85" lengthAdjust="spacingAndGlyphs" xml:space="preserve">torque of left rear wheel</text>
<path d="M435.40 54.70 H447.00" fill="none" stroke="#0000ff" stroke-width="1.35"/>
<text class="t" x="447.80" y="57.30" font-size="8.7" textLength="90.3" lengthAdjust="spacingAndGlyphs" xml:space="preserve">torque of right rear wheel</text>
<text class="cap" x="421.10" y="202.00" font-size="13" font-weight="bold" text-anchor="middle">(f)</text>
</g>
<g class="plot" id="plot-g">
<path d="M35.60 307.33 L35.95 308.69 L36.31 309.92 L36.66 310.91 L37.02 311.75 L37.37 312.51 L37.72 312.89 L38.08 312.83 L38.43 312.70 L38.79 312.55 L39.14 312.38 L39.49 312.21 L39.85 312.04 L40.20 311.89 L40.56 311.79 L40.91 311.69 L41.26 311.58 L41.62 311.46 L41.97 311.35 L42.32 311.26 L42.68 311.19 L43.03 311.14 L43.39 311.14 L43.74 311.18 L44.09 311.26 L44.45 311.36 L44.80 311.49 L45.16 311.64 L45.51 311.80 L45.86 311.97 L46.22 312.15 L46.57 312.33 L46.93 312.51 L47.28 312.69 L47.63 312.85 L47.99 313.00 L48.34 313.16 L48.70 313.33 L49.05 313.52 L49.40 313.70 L49.76 313.89 L50.11 314.06 L50.47 314.23 L50.82 314.38 L51.17 314.50 L51.53 314.60 L51.88 314.66 L52.24 314.68 L52.59 314.70 L52.94 314.71 L53.30 314.73 L53.65 314.74 L54.01 314.75 L54.36 314.76 L54.71 314.77 L55.07 314.78 L55.42 314.79 L55.77 314.80 L56.13 314.80 L56.48 314.81 L56.84 314.82 L57.19 314.82 L57.54 314.82 L57.90 314.83 L58.25 314.83 L58.61 314.83 L58.96 314.83 L59.31 314.83 L59.67 314.83 L60.02 314.83 L60.38 314.83 L60.73 314.83 L61.08 314.83 L61.44 314.83 L61.79 314.83 L62.15 314.82 L62.50 314.82 L62.85 314.82 L63.21 314.81 L63.56 314.81 L63.92 314.81 L64.27 314.80 L64.62 314.80 L64.98 314.80 L65.33 314.79 L65.69 314.79 L66.04 314.78 L66.39 314.78 L66.75 314.78 L67.10 314.77 L67.46 314.77 L67.81 314.76 L68.16 314.76 L68.52 314.76 L68.87 314.75 L69.22 314.75 L69.58 314.74 L69.93 314.74 L70.29 314.74 L70.64 314.73 L70.99 314.73 L71.35 314.73 L71.70 314.74 L72.06 314.77 L72.41 314.81 L72.76 314.86 L73.12 314.92 L73.47 315.02 L73.83 315.32 L74.18 315.80 L74.53 316.44 L74.89 317.22 L75.24 318.10 L75.60 319.06 L75.95 320.08 L76.30 321.13 L76.66 322.33 L77.01 323.76 L77.37 325.37 L77.72 327.12 L78.07 328.95 L78.43 330.84 L78.78 332.72 L79.14 334.56 L79.49 336.35 L79.84 338.21 L80.20 340.14 L80.55 342.10 L80.91 344.09 L81.26 346.07 L81.61 348.01 L81.97 349.91 L82.32 351.72 L82.67 353.42 L83.03 355.00 L83.38 356.46 L83.74 357.88 L84.09 359.26 L84.44 360.57 L84.80 361.81 L85.15 362.96 L85.51 364.00 L85.86 364.92 L86.21 365.71 L86.57 366.35 L86.92 366.94 L87.28 367.49 L87.63 367.97 L87.98 368.36 L88.34 368.63 L88.69 368.76 L89.05 368.71 L89.40 368.48 L89.75 368.08 L90.11 367.56 L90.46 366.93 L90.82 366.24 L91.17 365.52 L91.52 364.77 L91.88 363.85 L92.23 362.73 L92.59 361.46 L92.94 360.07 L93.29 358.60 L93.65 357.08 L94.00 355.44 L94.36 353.66 L94.71 351.76 L95.06 349.73 L95.42 347.61 L95.77 345.40 L96.12 343.13 L96.48 340.80 L96.83 338.44 L97.19 336.06 L97.54 333.66 L97.89 331.13 L98.25 328.44 L98.60 325.63 L98.96 322.70 L99.31 319.68 L99.66 316.59 L100.02 313.46 L100.37 310.30 L100.73 307.00 L101.08 302.88 L101.43 296.29 L101.79 285.58 L102.14 278.78 L102.50 273.78 L102.85 271.97 L103.20 270.79 L103.56 269.99 L103.91 269.70 L104.27 269.49 L104.62 269.33 L104.97 269.33 L105.33 269.37 L105.68 269.41 L106.04 269.46 L106.39 269.50 L106.74 269.55 L107.10 269.60 L107.45 269.65 L107.81 269.70 L108.16 269.75 L108.51 269.80 L108.87 269.85 L109.22 269.89 L109.57 269.93 L109.93 269.97 L110.28 270.02 L110.64 270.06 L110.99 270.11 L111.34 270.16 L111.70 270.22 L112.05 270.29 L112.41 270.37 L112.76 270.45 L113.11 270.60 L113.47 270.86 L113.82 271.22 L114.18 271.64 L114.53 272.11 L114.88 272.58 L115.24 273.05 L115.59 273.47 L115.95 273.82 L116.30 274.17 L116.65 274.50 L117.01 274.81 L117.36 275.09 L117.72 275.31 L118.07 275.47 L118.42 275.49 L118.78 275.34 L119.13 275.06 L119.49 274.67 L119.84 274.19 L120.19 273.65 L120.55 273.08 L120.90 272.47 L121.26 271.67 L121.61 270.68 L121.96 269.55 L122.32 268.37 L122.67 267.19 L123.02 266.10 L123.38 265.15 L123.73 264.38 L124.09 263.62 L124.44 262.86 L124.79 262.15 L125.15 261.51 L125.50 260.97 L125.86 260.55 L126.21 260.30 L126.56 260.23 L126.92 260.35 L127.27 260.62 L127.63 261.00 L127.98 261.49 L128.33 262.05 L128.69 262.66 L129.04 263.30 L129.40 263.94 L129.75 264.58 L130.10 265.28 L130.46 266.03 L130.81 266.83 L131.17 267.66 L131.52 268.51 L131.87 269.37 L132.23 270.23 L132.58 271.07 L132.94 271.91 L133.29 272.77 L133.64 273.64 L134.00 274.54 L134.35 275.47 L134.70 276.44 L135.06 277.46 L135.41 278.52 L135.77 279.65 L136.12 280.83 L136.47 282.10 L136.83 283.44 L137.18 284.97 L137.54 287.29 L137.89 290.31 L138.24 293.85 L138.60 297.72 L138.95 301.74 L139.31 305.78 L139.66 310.32 L140.01 315.30 L140.37 320.36 L140.72 325.16 L141.08 329.59 L141.43 334.10 L141.78 338.51 L142.14 342.56 L142.49 345.98 L142.85 348.53 L143.20 350.65 L143.55 352.61 L143.91 354.41 L144.26 356.03 L144.62 357.48 L144.97 358.75 L145.32 359.83 L145.68 360.74 L146.03 361.63 L146.39 362.52 L146.74 363.37 L147.09 364.17 L147.45 364.88 L147.80 365.50 L148.15 366.00 L148.51 366.39 L148.86 366.79 L149.22 367.16 L149.57 367.48 L149.92 367.71 L150.28 367.81 L150.63 367.76 L150.99 367.62 L151.34 367.41 L151.69 367.14 L152.05 366.83 L152.40 366.48 L152.76 366.11 L153.11 365.74 L153.46 365.37 L153.82 365.02 L154.17 364.67 L154.53 364.30 L154.88 363.91 L155.23 363.48 L155.59 363.03 L155.94 362.52 L156.30 361.98 L156.65 361.38 L157.00 360.72 L157.36 359.99 L157.71 359.19 L158.07 358.30 L158.42 357.17 L158.77 355.81 L159.13 354.26 L159.48 352.55 L159.84 350.72 L160.19 348.79 L160.54 346.81 L160.90 344.80 L161.25 342.79 L161.60 340.83 L161.96 338.94 L162.31 337.16 L162.67 335.37 L163.02 333.51 L163.37 331.59 L163.73 329.65 L164.08 327.71 L164.44 325.79 L164.79 323.92 L165.14 322.13 L165.50 320.43 L165.85 318.86 L166.21 317.45 L166.56 316.20 L166.91 315.13 L167.27 314.11 L167.62 313.14 L167.98 312.23 L168.33 311.38 L168.68 310.60 L169.04 309.89 L169.39 309.26 L169.75 308.72 L170.10 308.26 L170.45 307.90 L170.81 307.64 L171.16 307.42 L171.52 307.19 L171.87 306.95 L172.22 306.72 L172.58 306.50 L172.93 306.28 L173.29 306.09 L173.64 305.92 L173.99 305.78 L174.35 305.67 L174.70 305.61 L175.05 305.59 L175.41 305.62 L175.76 305.70 L176.12 305.83 L176.47 305.97 L176.82 306.12 L177.18 306.29 L177.53 306.47 L177.89 306.66 L178.24 306.86 L178.59 307.07 L178.95 307.28 L179.30 307.50 L179.66 307.72 L180.01 307.94 L180.36 308.17 L180.72 308.42 L181.07 308.68 L181.43 308.96 L181.78 309.23 L182.13 309.51 L182.49 309.79 L182.84 310.07 L183.20 310.33 L183.55 310.59 L183.90 310.84 L184.26 311.07 L184.61 311.28 L184.97 311.46 L185.32 311.63 L185.67 311.79 L186.03 311.95 L186.38 312.11 L186.74 312.26 L187.09 312.41 L187.44 312.55 L187.80 312.69 L188.15 312.82 L188.50 312.94 L188.86 313.06 L189.21 313.17 L189.57 313.27 L189.92 313.36 L190.27 313.44 L190.63 313.51 L190.98 313.57 L191.34 313.62 L191.69 313.66 L192.04 313.70 L192.40 313.74 L192.75 313.78 L193.11 313.82 L193.46 313.86 L193.81 313.90 L194.17 313.94 L194.52 313.97 L194.88 314.01 L195.23 314.04 L195.58 314.06 L195.94 314.09 L196.29 314.11 L196.65 314.13 L197.00 314.14 L197.35 314.15 L197.71 314.15 L198.06 314.15 L198.42 314.15 L198.77 314.15 L199.12 314.15 L199.48 314.15 L199.83 314.15 L200.19 314.15 L200.54 314.15 L200.89 314.15 L201.25 314.15 L201.60 314.15 L201.95 314.15 L202.31 314.15 L202.66 314.15 L203.02 314.15 L203.37 314.15 L203.72 314.15 L204.08 314.15 L204.43 314.15 L204.79 314.15 L205.14 314.15 L205.49 314.15 L205.85 314.15 L206.20 314.15 L206.56 314.15 L206.91 314.15 L207.26 314.15 L207.62 314.15 L207.97 314.15 L208.33 314.15 L208.68 314.15 L209.03 314.15 L209.39 314.15 L209.74 314.15 L210.10 314.15 L210.45 314.15 L210.80 314.15 L211.16 314.15 L211.51 314.15 L211.87 314.15 L212.22 314.15 L212.57 314.15 L212.93 314.15 L213.28 314.15 L213.64 314.15 L213.99 314.15 L214.34 314.15 L214.70 314.15 L215.05 314.15 L215.40 314.15 L215.76 314.15 L216.11 314.15 L216.47 314.15 L216.82 314.15 L217.17 314.15 L217.53 314.15 L217.88 314.15 L218.24 314.15 L218.59 314.15 L218.94 314.15 L219.30 314.15 L219.65 314.15 L220.01 314.15 L220.36 314.15 L220.71 314.15 L221.07 314.15 L221.42 314.15 L221.78 314.15 L222.13 314.15 L222.48 314.15 L222.84 314.15 L223.19 314.15 L223.55 314.15 L223.90 314.15 L224.25 314.15 L224.61 314.15 L224.96 314.15 L225.32 314.15 L225.67 314.15 L226.02 314.15 L226.38 314.15 L226.73 314.15 L227.08 314.15 L227.44 314.15 L227.79 314.15 L228.15 314.15 L228.50 314.15 L228.85 314.15 L229.21 314.15 L229.56 314.15 L229.92 314.15 L230.27 314.15 L230.62 314.15 L230.98 314.15 L231.33 314.15 L231.69 314.15 L232.04 314.15 L232.39 314.15 L232.75 314.15 L233.10 314.15 L233.46 314.15" fill="none" stroke="#ff00e6" stroke-width="1.2" stroke-linejoin="round" stroke-dasharray="3 0.8 1 0.8"/>
<path d="M35.60 307.33 L35.95 308.69 L36.31 309.92 L36.66 310.91 L37.02 311.75 L37.37 312.51 L37.72 312.89 L38.08 312.83 L38.43 312.70 L38.79 312.55 L39.14 312.38 L39.49 312.21 L39.85 312.04 L40.20 311.89 L40.56 311.79 L40.91 311.69 L41.26 311.58 L41.62 311.46 L41.97 311.35 L42.32 311.26 L42.68 311.19 L43.03 311.14 L43.39 311.14 L43.74 311.18 L44.09 311.26 L44.45 311.36 L44.80 311.49 L45.16 311.64 L45.51 311.80 L45.86 311.97 L46.22 312.15 L46.57 312.33 L46.93 312.51 L47.28 312.69 L47.63 312.85 L47.99 313.00 L48.34 313.16 L48.70 313.33 L49.05 313.52 L49.40 313.70 L49.76 313.89 L50.11 314.06 L50.47 314.23 L50.82 314.38 L51.17 314.50 L51.53 314.60 L51.88 314.66 L52.24 314.68 L52.59 314.70 L52.94 314.71 L53.30 314.72 L53.65 314.74 L54.01 314.75 L54.36 314.76 L54.71 314.77 L55.07 314.77 L55.42 314.78 L55.77 314.79 L56.13 314.79 L56.48 314.80 L56.84 314.80 L57.19 314.80 L57.54 314.81 L57.90 314.81 L58.25 314.81 L58.61 314.82 L58.96 314.82 L59.31 314.82 L59.67 314.83 L60.02 314.83 L60.38 314.83 L60.73 314.84 L61.08 314.84 L61.44 314.84 L61.79 314.84 L62.15 314.84 L62.50 314.84 L62.85 314.84 L63.21 314.84 L63.56 314.84 L63.92 314.84 L64.27 314.83 L64.62 314.83 L64.98 314.83 L65.33 314.82 L65.69 314.82 L66.04 314.81 L66.39 314.81 L66.75 314.80 L67.10 314.80 L67.46 314.79 L67.81 314.79 L68.16 314.78 L68.52 314.78 L68.87 314.77 L69.22 314.76 L69.58 314.76 L69.93 314.75 L70.29 314.75 L70.64 314.74 L70.99 314.73 L71.35 314.73 L71.70 314.67 L72.06 314.52 L72.41 314.29 L72.76 314.01 L73.12 313.68 L73.47 313.31 L73.83 312.93 L74.18 312.53 L74.53 312.14 L74.89 311.71 L75.24 311.07 L75.60 310.24 L75.95 309.26 L76.30 308.13 L76.66 306.88 L77.01 305.47 L77.37 303.61 L77.72 301.42 L78.07 299.06 L78.43 296.69 L78.78 294.47 L79.14 292.54 L79.49 290.70 L79.84 288.88 L80.20 287.07 L80.55 285.28 L80.91 283.53 L81.26 281.82 L81.61 280.16 L81.97 278.55 L82.32 277.01 L82.67 275.54 L83.03 274.15 L83.38 272.84 L83.74 271.59 L84.09 270.36 L84.44 269.17 L84.80 268.04 L85.15 267.01 L85.51 266.09 L85.86 265.32 L86.21 264.72 L86.57 264.19 L86.92 263.69 L87.28 263.28 L87.63 263.01 L87.98 262.94 L88.34 263.08 L88.69 263.34 L89.05 263.71 L89.40 264.16 L89.75 264.65 L90.11 265.18 L90.46 265.71 L90.82 266.25 L91.17 266.88 L91.52 267.59 L91.88 268.36 L92.23 269.18 L92.59 270.04 L92.94 270.93 L93.29 271.93 L93.65 273.04 L94.00 274.25 L94.36 275.55 L94.71 276.95 L95.06 278.44 L95.42 280.00 L95.77 281.64 L96.12 283.34 L96.48 285.11 L96.83 286.93 L97.19 288.81 L97.54 291.12 L97.89 294.04 L98.25 297.39 L98.60 301.01 L98.96 304.81 L99.31 309.22 L99.66 314.02 L100.02 318.82 L100.37 323.22 L100.73 327.14 L101.08 331.03 L101.43 334.82 L101.79 338.43 L102.14 341.76 L102.50 344.74 L102.85 347.27 L103.20 349.44 L103.56 351.55 L103.91 353.56 L104.27 355.42 L104.62 357.08 L104.97 358.49 L105.33 359.60 L105.68 360.36 L106.04 360.95 L106.39 361.55 L106.74 362.14 L107.10 362.70 L107.45 363.19 L107.81 363.60 L108.16 363.90 L108.51 364.06 L108.87 364.06 L109.22 363.92 L109.57 363.74 L109.93 363.53 L110.28 363.31 L110.64 363.05 L110.99 362.78 L111.34 362.49 L111.70 362.19 L112.05 361.87 L112.41 361.53 L112.76 361.18 L113.11 360.78 L113.47 360.35 L113.82 359.91 L114.18 359.46 L114.53 359.04 L114.88 358.64 L115.24 358.30 L115.59 358.01 L115.95 357.76 L116.30 357.56 L116.65 357.43 L117.01 357.36 L117.36 357.38 L117.72 357.52 L118.07 357.78 L118.42 358.13 L118.78 358.57 L119.13 359.06 L119.49 359.60 L119.84 360.15 L120.19 360.74 L120.55 361.46 L120.90 362.28 L121.26 363.17 L121.61 364.11 L121.96 365.07 L122.32 366.01 L122.67 366.91 L123.02 367.74 L123.38 368.47 L123.73 369.09 L124.09 369.68 L124.44 370.26 L124.79 370.80 L125.15 371.30 L125.50 371.74 L125.86 372.11 L126.21 372.40 L126.56 372.60 L126.92 372.69 L127.27 372.65 L127.63 372.46 L127.98 372.12 L128.33 371.66 L128.69 371.10 L129.04 370.46 L129.40 369.76 L129.75 369.04 L130.10 368.31 L130.46 367.60 L130.81 366.83 L131.17 365.98 L131.52 365.06 L131.87 364.07 L132.23 363.04 L132.58 361.96 L132.94 360.86 L133.29 359.73 L133.64 358.60 L134.00 357.48 L134.35 356.37 L134.70 355.23 L135.06 354.05 L135.41 352.81 L135.77 351.50 L136.12 350.12 L136.47 348.65 L136.83 347.09 L137.18 345.44 L137.54 343.67 L137.89 341.79 L138.24 339.77 L138.60 337.63 L138.95 334.85 L139.31 330.81 L139.66 325.86 L140.01 320.38 L140.37 314.73 L140.72 309.17 L141.08 303.12 L141.43 296.83 L141.78 290.70 L142.14 284.12 L142.49 277.63 L142.85 272.24 L143.20 268.70 L143.55 265.79 L143.91 263.34 L144.26 261.61 L144.62 260.83 L144.97 261.15 L145.32 262.00 L145.68 263.03 L146.03 264.07 L146.39 264.94 L146.74 265.48 L147.09 265.92 L147.45 266.33 L147.80 266.70 L148.15 266.99 L148.51 267.18 L148.86 267.32 L149.22 267.42 L149.57 267.48 L149.92 267.52 L150.28 267.54 L150.63 267.56 L150.99 267.58 L151.34 267.62 L151.69 267.68 L152.05 267.77 L152.40 267.90 L152.76 268.09 L153.11 268.34 L153.46 268.67 L153.82 269.06 L154.17 269.52 L154.53 270.03 L154.88 270.58 L155.23 271.18 L155.59 271.79 L155.94 272.43 L156.30 273.08 L156.65 273.74 L157.00 274.39 L157.36 275.02 L157.71 275.68 L158.07 276.37 L158.42 277.11 L158.77 277.89 L159.13 278.71 L159.48 279.56 L159.84 280.45 L160.19 281.36 L160.54 282.32 L160.90 283.39 L161.25 284.58 L161.60 285.88 L161.96 287.27 L162.31 288.75 L162.67 290.30 L163.02 292.00 L163.37 294.13 L163.73 296.46 L164.08 298.71 L164.44 300.57 L164.79 302.02 L165.14 303.37 L165.50 304.64 L165.85 305.84 L166.21 306.97 L166.56 308.06 L166.91 309.10 L167.27 310.11 L167.62 311.09 L167.98 312.08 L168.33 313.11 L168.68 314.16 L169.04 315.21 L169.39 316.21 L169.75 317.13 L170.10 317.93 L170.45 318.58 L170.81 319.04 L171.16 319.39 L171.52 319.74 L171.87 320.08 L172.22 320.39 L172.58 320.68 L172.93 320.94 L173.29 321.17 L173.64 321.36 L173.99 321.51 L174.35 321.60 L174.70 321.65 L175.05 321.63 L175.41 321.56 L175.76 321.47 L176.12 321.37 L176.47 321.26 L176.82 321.14 L177.18 321.01 L177.53 320.88 L177.89 320.73 L178.24 320.57 L178.59 320.41 L178.95 320.24 L179.30 320.06 L179.66 319.87 L180.01 319.67 L180.36 319.47 L180.72 319.27 L181.07 319.06 L181.43 318.85 L181.78 318.64 L182.13 318.43 L182.49 318.22 L182.84 318.01 L183.20 317.80 L183.55 317.57 L183.90 317.33 L184.26 317.08 L184.61 316.82 L184.97 316.56 L185.32 316.30 L185.67 316.04 L186.03 315.79 L186.38 315.55 L186.74 315.31 L187.09 315.10 L187.44 314.90 L187.80 314.72 L188.15 314.57 L188.50 314.45 L188.86 314.36 L189.21 314.31 L189.57 314.27 L189.92 314.24 L190.27 314.21 L190.63 314.18 L190.98 314.16 L191.34 314.14 L191.69 314.12 L192.04 314.10 L192.40 314.09 L192.75 314.07 L193.11 314.06 L193.46 314.06 L193.81 314.05 L194.17 314.05 L194.52 314.04 L194.88 314.04 L195.23 314.05 L195.58 314.05 L195.94 314.05 L196.29 314.05 L196.65 314.05 L197.00 314.06 L197.35 314.06 L197.71 314.06 L198.06 314.06 L198.42 314.07 L198.77 314.07 L199.12 314.07 L199.48 314.07 L199.83 314.07 L200.19 314.08 L200.54 314.08 L200.89 314.08 L201.25 314.08 L201.60 314.09 L201.95 314.09 L202.31 314.09 L202.66 314.09 L203.02 314.10 L203.37 314.10 L203.72 314.10 L204.08 314.10 L204.43 314.11 L204.79 314.11 L205.14 314.11 L205.49 314.11 L205.85 314.12 L206.20 314.12 L206.56 314.12 L206.91 314.12 L207.26 314.13 L207.62 314.13 L207.97 314.13 L208.33 314.13 L208.68 314.13 L209.03 314.13 L209.39 314.14 L209.74 314.14 L210.10 314.14 L210.45 314.14 L210.80 314.14 L211.16 314.14 L211.51 314.14 L211.87 314.15 L212.22 314.15 L212.57 314.15 L212.93 314.15 L213.28 314.15 L213.64 314.15 L213.99 314.15 L214.34 314.15 L214.70 314.15 L215.05 314.15 L215.40 314.15 L215.76 314.15 L216.11 314.15 L216.47 314.15 L216.82 314.15 L217.17 314.15 L217.53 314.15 L217.88 314.15 L218.24 314.15 L218.59 314.15 L218.94 314.15 L219.30 314.15 L219.65 314.15 L220.01 314.15 L220.36 314.15 L220.71 314.15 L221.07 314.15 L221.42 314.16 L221.78 314.16 L222.13 314.16 L222.48 314.16 L222.84 314.16 L223.19 314.16 L223.55 314.16 L223.90 314.16 L224.25 314.16 L224.61 314.16 L224.96 314.16 L225.32 314.16 L225.67 314.16 L226.02 314.16 L226.38 314.16 L226.73 314.16 L227.08 314.16 L227.44 314.16 L227.79 314.16 L228.15 314.16 L228.50 314.16 L228.85 314.16 L229.21 314.16 L229.56 314.16 L229.92 314.16 L230.27 314.15 L230.62 314.15 L230.98 314.15 L231.33 314.15 L231.69 314.15 L232.04 314.15 L232.39 314.15 L232.75 314.15 L233.10 314.15 L233.46 314.15" fill="none" stroke="#8b1a9b" stroke-width="1.15" stroke-linejoin="round" stroke-dasharray="1.1 1.1"/>
<path d="M35.60 306.38 L35.95 305.47 L36.31 304.75 L36.66 304.32 L37.02 304.13 L37.37 304.44 L37.72 304.97 L38.08 305.49 L38.43 305.98 L38.79 306.53 L39.14 307.07 L39.49 307.53 L39.85 307.87 L40.20 308.01 L40.56 307.97 L40.91 307.86 L41.26 307.72 L41.62 307.54 L41.97 307.33 L42.32 307.11 L42.68 306.88 L43.03 306.65 L43.39 306.43 L43.74 306.22 L44.09 306.04 L44.45 305.85 L44.80 305.66 L45.16 305.47 L45.51 305.27 L45.86 305.08 L46.22 304.89 L46.57 304.71 L46.93 304.53 L47.28 304.36 L47.63 304.21 L47.99 304.06 L48.34 303.92 L48.70 303.78 L49.05 303.63 L49.40 303.49 L49.76 303.35 L50.11 303.22 L50.47 303.10 L50.82 302.99 L51.17 302.89 L51.53 302.82 L51.88 302.76 L52.24 302.72 L52.59 302.70 L52.94 302.71 L53.30 302.71 L53.65 302.72 L54.01 302.72 L54.36 302.73 L54.71 302.73 L55.07 302.74 L55.42 302.75 L55.77 302.76 L56.13 302.77 L56.48 302.77 L56.84 302.78 L57.19 302.79 L57.54 302.80 L57.90 302.81 L58.25 302.82 L58.61 302.83 L58.96 302.84 L59.31 302.84 L59.67 302.85 L60.02 302.86 L60.38 302.86 L60.73 302.87 L61.08 302.87 L61.44 302.88 L61.79 302.88 L62.15 302.88 L62.50 302.89 L62.85 302.89 L63.21 302.89 L63.56 302.89 L63.92 302.89 L64.27 302.89 L64.62 302.89 L64.98 302.89 L65.33 302.89 L65.69 302.89 L66.04 302.89 L66.39 302.89 L66.75 302.89 L67.10 302.89 L67.46 302.89 L67.81 302.90 L68.16 302.90 L68.52 302.90 L68.87 302.90 L69.22 302.91 L69.58 302.91 L69.93 302.96 L70.29 303.14 L70.64 303.43 L70.99 303.80 L71.35 304.22 L71.70 304.67 L72.06 305.11 L72.41 305.57 L72.76 306.13 L73.12 306.79 L73.47 307.53 L73.83 308.33 L74.18 309.17 L74.53 310.07 L74.89 311.09 L75.24 312.24 L75.60 313.49 L75.95 314.83 L76.30 316.23 L76.66 317.68 L77.01 319.16 L77.37 320.76 L77.72 322.46 L78.07 324.23 L78.43 326.05 L78.78 327.90 L79.14 329.76 L79.49 331.61 L79.84 333.49 L80.20 335.40 L80.55 337.34 L80.91 339.30 L81.26 341.26 L81.61 343.23 L81.97 345.19 L82.32 347.15 L82.67 349.08 L83.03 350.99 L83.38 352.91 L83.74 354.92 L84.09 356.88 L84.44 358.66 L84.80 360.12 L85.15 361.35 L85.51 362.46 L85.86 363.34 L86.21 363.89 L86.57 364.03 L86.92 363.90 L87.28 363.59 L87.63 363.12 L87.98 362.53 L88.34 361.83 L88.69 360.97 L89.05 360.00 L89.40 358.98 L89.75 357.93 L90.11 356.87 L90.46 355.75 L90.82 354.58 L91.17 353.35 L91.52 352.08 L91.88 350.76 L92.23 349.37 L92.59 347.92 L92.94 346.42 L93.29 344.86 L93.65 343.26 L94.00 341.63 L94.36 339.97 L94.71 338.28 L95.06 336.57 L95.42 334.85 L95.77 333.08 L96.12 331.16 L96.48 329.11 L96.83 326.93 L97.19 324.65 L97.54 322.27 L97.89 319.83 L98.25 317.32 L98.60 314.73 L98.96 310.70 L99.31 304.67 L99.66 292.84 L100.02 274.90 L100.37 260.74 L100.73 255.09 L101.08 250.88 L101.43 247.83 L101.79 246.02 L102.14 244.90 L102.50 243.68 L102.85 242.63 L103.20 242.02 L103.56 242.09 L103.91 242.46 L104.27 242.89 L104.62 243.34 L104.97 243.80 L105.33 244.24 L105.68 244.68 L106.04 245.18 L106.39 245.67 L106.74 246.11 L107.10 246.45 L107.45 246.63 L107.81 246.71 L108.16 246.71 L108.51 246.65 L108.87 246.54 L109.22 246.40 L109.57 246.24 L109.93 246.09 L110.28 245.95 L110.64 245.85 L110.99 245.79 L111.34 245.80 L111.70 245.89 L112.05 246.05 L112.41 246.24 L112.76 246.45 L113.11 246.68 L113.47 246.92 L113.82 247.16 L114.18 247.40 L114.53 247.62 L114.88 247.82 L115.24 248.01 L115.59 248.21 L115.95 248.39 L116.30 248.55 L116.65 248.70 L117.01 248.81 L117.36 248.88 L117.72 248.88 L118.07 248.74 L118.42 248.46 L118.78 248.08 L119.13 247.61 L119.49 247.06 L119.84 246.48 L120.19 245.87 L120.55 245.26 L120.90 244.65 L121.26 243.93 L121.61 243.09 L121.96 242.18 L122.32 241.25 L122.67 240.34 L123.02 239.51 L123.38 238.81 L123.73 238.25 L124.09 237.75 L124.44 237.32 L124.79 237.00 L125.15 236.83 L125.50 236.83 L125.86 237.02 L126.21 237.36 L126.56 237.81 L126.92 238.35 L127.27 238.94 L127.63 239.55 L127.98 240.17 L128.33 240.87 L128.69 241.61 L129.04 242.41 L129.40 243.24 L129.75 244.09 L130.10 244.97 L130.46 245.84 L130.81 246.72 L131.17 247.58 L131.52 248.44 L131.87 249.33 L132.23 250.25 L132.58 251.19 L132.94 252.17 L133.29 253.17 L133.64 254.20 L134.00 255.26 L134.35 256.34 L134.70 257.45 L135.06 258.58 L135.41 259.74 L135.77 260.93 L136.12 262.26 L136.47 264.17 L136.83 266.69 L137.18 269.79 L137.54 273.44 L137.89 277.61 L138.24 282.28 L138.60 288.78 L138.95 299.99 L139.31 311.62 L139.66 319.83 L140.01 327.14 L140.37 333.80 L140.72 339.37 L141.08 343.41 L141.43 346.26 L141.78 348.96 L142.14 351.43 L142.49 353.62 L142.85 355.44 L143.20 356.84 L143.55 357.85 L143.91 358.85 L144.26 359.83 L144.62 360.71 L144.97 361.46 L145.32 362.00 L145.68 362.31 L146.03 362.61 L146.39 362.87 L146.74 363.06 L147.09 363.10 L147.45 362.99 L147.80 362.84 L148.15 362.65 L148.51 362.43 L148.86 362.20 L149.22 361.96 L149.57 361.71 L149.92 361.46 L150.28 361.18 L150.63 360.88 L150.99 360.56 L151.34 360.21 L151.69 359.85 L152.05 359.47 L152.40 359.08 L152.76 358.67 L153.11 358.21 L153.46 357.70 L153.82 357.13 L154.17 356.52 L154.53 355.86 L154.88 355.16 L155.23 354.42 L155.59 353.65 L155.94 352.85 L156.30 352.02 L156.65 351.17 L157.00 350.30 L157.36 349.41 L157.71 348.51 L158.07 347.59 L158.42 346.58 L158.77 345.47 L159.13 344.28 L159.48 343.00 L159.84 341.65 L160.19 340.23 L160.54 338.75 L160.90 337.22 L161.25 335.64 L161.60 334.02 L161.96 332.37 L162.31 330.70 L162.67 328.90 L163.02 326.93 L163.37 324.83 L163.73 322.64 L164.08 320.41 L164.44 318.19 L164.79 316.01 L165.14 313.91 L165.50 311.96 L165.85 310.09 L166.21 308.15 L166.56 306.20 L166.91 304.28 L167.27 302.44 L167.62 300.73 L167.98 299.19 L168.33 297.90 L168.68 296.88 L169.04 296.16 L169.39 295.54 L169.75 294.98 L170.10 294.48 L170.45 294.05 L170.81 293.69 L171.16 293.40 L171.52 293.20 L171.87 293.05 L172.22 292.89 L172.58 292.74 L172.93 292.62 L173.29 292.55 L173.64 292.54 L173.99 292.62 L174.35 292.74 L174.70 292.89 L175.05 293.07 L175.41 293.28 L175.76 293.50 L176.12 293.74 L176.47 293.99 L176.82 294.24 L177.18 294.50 L177.53 294.78 L177.89 295.08 L178.24 295.39 L178.59 295.72 L178.95 296.06 L179.30 296.41 L179.66 296.76 L180.01 297.12 L180.36 297.48 L180.72 297.83 L181.07 298.17 L181.43 298.51 L181.78 298.83 L182.13 299.13 L182.49 299.42 L182.84 299.68 L183.20 299.92 L183.55 300.17 L183.90 300.42 L184.26 300.66 L184.61 300.91 L184.97 301.14 L185.32 301.38 L185.67 301.60 L186.03 301.82 L186.38 302.03 L186.74 302.22 L187.09 302.40 L187.44 302.57 L187.80 302.72 L188.15 302.85 L188.50 302.96 L188.86 303.05 L189.21 303.12 L189.57 303.18 L189.92 303.24 L190.27 303.30 L190.63 303.36 L190.98 303.41 L191.34 303.46 L191.69 303.51 L192.04 303.56 L192.40 303.60 L192.75 303.64 L193.11 303.67 L193.46 303.70 L193.81 303.72 L194.17 303.74 L194.52 303.75 L194.88 303.76 L195.23 303.75 L195.58 303.75 L195.94 303.75 L196.29 303.75 L196.65 303.75 L197.00 303.75 L197.35 303.74 L197.71 303.74 L198.06 303.74 L198.42 303.74 L198.77 303.73 L199.12 303.73 L199.48 303.73 L199.83 303.73 L200.19 303.72 L200.54 303.72 L200.89 303.72 L201.25 303.72 L201.60 303.71 L201.95 303.71 L202.31 303.71 L202.66 303.71 L203.02 303.70 L203.37 303.70 L203.72 303.70 L204.08 303.70 L204.43 303.69 L204.79 303.69 L205.14 303.69 L205.49 303.69 L205.85 303.68 L206.20 303.68 L206.56 303.68 L206.91 303.68 L207.26 303.68 L207.62 303.67 L207.97 303.67 L208.33 303.67 L208.68 303.67 L209.03 303.67 L209.39 303.66 L209.74 303.66 L210.10 303.66 L210.45 303.66 L210.80 303.66 L211.16 303.66 L211.51 303.65 L211.87 303.65 L212.22 303.65 L212.57 303.65 L212.93 303.65 L213.28 303.65 L213.64 303.65 L213.99 303.65 L214.34 303.65 L214.70 303.65 L215.05 303.65 L215.40 303.65 L215.76 303.65 L216.11 303.65 L216.47 303.65 L216.82 303.65 L217.17 303.65 L217.53 303.65 L217.88 303.65 L218.24 303.65 L218.59 303.65 L218.94 303.65 L219.30 303.65 L219.65 303.65 L220.01 303.65 L220.36 303.65 L220.71 303.65 L221.07 303.65 L221.42 303.65 L221.78 303.65 L222.13 303.65 L222.48 303.65 L222.84 303.64 L223.19 303.64 L223.55 303.64 L223.90 303.64 L224.25 303.64 L224.61 303.64 L224.96 303.64 L225.32 303.64 L225.67 303.64 L226.02 303.64 L226.38 303.64 L226.73 303.64 L227.08 303.64 L227.44 303.64 L227.79 303.64 L228.15 303.64 L228.50 303.64 L228.85 303.64 L229.21 303.64 L229.56 303.64 L229.92 303.65 L230.27 303.65 L230.62 303.65 L230.98 303.65 L231.33 303.65 L231.69 303.65 L232.04 303.65 L232.39 303.65 L232.75 303.65 L233.10 303.65 L233.46 303.65" fill="none" stroke="#6aa818" stroke-width="1.2" stroke-linejoin="round" stroke-dasharray="2.4 1"/>
<path d="M35.60 306.38 L35.95 305.47 L36.31 304.75 L36.66 304.32 L37.02 304.13 L37.37 304.44 L37.72 304.97 L38.08 305.49 L38.43 305.98 L38.79 306.53 L39.14 307.07 L39.49 307.53 L39.85 307.87 L40.20 308.01 L40.56 307.97 L40.91 307.86 L41.26 307.72 L41.62 307.54 L41.97 307.33 L42.32 307.11 L42.68 306.88 L43.03 306.65 L43.39 306.43 L43.74 306.22 L44.09 306.04 L44.45 305.85 L44.80 305.66 L45.16 305.47 L45.51 305.27 L45.86 305.08 L46.22 304.89 L46.57 304.71 L46.93 304.53 L47.28 304.36 L47.63 304.21 L47.99 304.06 L48.34 303.92 L48.70 303.78 L49.05 303.63 L49.40 303.49 L49.76 303.35 L50.11 303.22 L50.47 303.10 L50.82 302.99 L51.17 302.89 L51.53 302.82 L51.88 302.76 L52.24 302.72 L52.59 302.70 L52.94 302.71 L53.30 302.71 L53.65 302.72 L54.01 302.72 L54.36 302.73 L54.71 302.74 L55.07 302.74 L55.42 302.75 L55.77 302.76 L56.13 302.77 L56.48 302.77 L56.84 302.78 L57.19 302.79 L57.54 302.80 L57.90 302.81 L58.25 302.82 L58.61 302.83 L58.96 302.83 L59.31 302.84 L59.67 302.85 L60.02 302.86 L60.38 302.86 L60.73 302.87 L61.08 302.88 L61.44 302.88 L61.79 302.89 L62.15 302.89 L62.50 302.90 L62.85 302.90 L63.21 302.91 L63.56 302.91 L63.92 302.92 L64.27 302.92 L64.62 302.92 L64.98 302.93 L65.33 302.93 L65.69 302.94 L66.04 302.94 L66.39 302.94 L66.75 302.95 L67.10 302.95 L67.46 302.95 L67.81 302.95 L68.16 302.96 L68.52 302.96 L68.87 302.96 L69.22 302.96 L69.58 302.97 L69.93 302.97 L70.29 302.92 L70.64 302.78 L70.99 302.56 L71.35 302.27 L71.70 301.93 L72.06 301.55 L72.41 301.14 L72.76 300.62 L73.12 299.88 L73.47 298.99 L73.83 298.01 L74.18 297.00 L74.53 296.01 L74.89 295.07 L75.24 294.12 L75.60 293.12 L75.95 292.05 L76.30 290.88 L76.66 289.59 L77.01 288.13 L77.37 286.40 L77.72 284.44 L78.07 282.29 L78.43 280.01 L78.78 277.65 L79.14 275.25 L79.49 272.85 L79.84 270.52 L80.20 268.10 L80.55 265.46 L80.91 262.70 L81.26 259.90 L81.61 257.14 L81.97 254.50 L82.32 252.08 L82.67 249.95 L83.03 248.20 L83.38 246.80 L83.74 245.49 L84.09 244.25 L84.44 243.14 L84.80 242.16 L85.15 241.34 L85.51 240.73 L85.86 240.33 L86.21 240.18 L86.57 240.30 L86.92 240.54 L87.28 240.85 L87.63 241.22 L87.98 241.64 L88.34 242.10 L88.69 242.58 L89.05 243.08 L89.40 243.58 L89.75 244.13 L90.11 244.72 L90.46 245.35 L90.82 246.02 L91.17 246.72 L91.52 247.45 L91.88 248.23 L92.23 249.16 L92.59 250.22 L92.94 251.40 L93.29 252.71 L93.65 254.12 L94.00 255.63 L94.36 257.24 L94.71 258.92 L95.06 260.68 L95.42 262.49 L95.77 264.36 L96.12 266.29 L96.48 268.71 L96.83 271.72 L97.19 275.22 L97.54 279.07 L97.89 283.14 L98.25 287.31 L98.60 291.96 L98.96 297.35 L99.31 303.10 L99.66 309.30 L100.02 316.11 L100.37 322.81 L100.73 328.67 L101.08 333.84 L101.43 338.84 L101.79 343.44 L102.14 347.42 L102.50 350.54 L102.85 352.76 L103.20 354.73 L103.56 356.46 L103.91 357.82 L104.27 358.72 L104.62 359.33 L104.97 359.95 L105.33 360.48 L105.68 360.79 L106.04 360.80 L106.39 360.67 L106.74 360.53 L107.10 360.38 L107.45 360.21 L107.81 360.02 L108.16 359.82 L108.51 359.61 L108.87 359.39 L109.22 359.16 L109.57 358.93 L109.93 358.68 L110.28 358.42 L110.64 358.15 L110.99 357.86 L111.34 357.57 L111.70 357.27 L112.05 356.98 L112.41 356.69 L112.76 356.41 L113.11 356.15 L113.47 355.90 L113.82 355.68 L114.18 355.48 L114.53 355.32 L114.88 355.18 L115.24 355.06 L115.59 354.98 L115.95 354.92 L116.30 354.89 L116.65 354.89 L117.01 354.95 L117.36 355.11 L117.72 355.35 L118.07 355.65 L118.42 356.01 L118.78 356.42 L119.13 356.85 L119.49 357.29 L119.84 357.84 L120.19 358.52 L120.55 359.29 L120.90 360.11 L121.26 360.96 L121.61 361.80 L121.96 362.61 L122.32 363.34 L122.67 363.96 L123.02 364.50 L123.38 365.02 L123.73 365.48 L124.09 365.88 L124.44 366.19 L124.79 366.39 L125.15 366.46 L125.50 366.37 L125.86 366.08 L126.21 365.61 L126.56 364.99 L126.92 364.24 L127.27 363.41 L127.63 362.52 L127.98 361.61 L128.33 360.71 L128.69 359.84 L129.04 358.93 L129.40 357.98 L129.75 356.99 L130.10 355.98 L130.46 354.94 L130.81 353.89 L131.17 352.84 L131.52 351.79 L131.87 350.75 L132.23 349.72 L132.58 348.73 L132.94 347.75 L133.29 346.78 L133.64 345.81 L134.00 344.81 L134.35 343.78 L134.70 342.70 L135.06 341.55 L135.41 340.34 L135.77 339.03 L136.12 337.62 L136.47 336.09 L136.83 333.82 L137.18 330.50 L137.54 326.41 L137.89 321.82 L138.24 317.00 L138.60 312.20 L138.95 307.34 L139.31 301.96 L139.66 296.19 L140.01 290.17 L140.37 283.61 L140.72 276.58 L141.08 269.84 L141.43 263.45 L141.78 256.95 L142.14 250.86 L142.49 245.75 L142.85 242.11 L143.20 239.09 L143.55 236.45 L143.91 234.58 L144.26 233.90 L144.62 234.60 L144.97 235.81 L145.32 237.24 L145.68 238.69 L146.03 240.00 L146.39 241.24 L146.74 242.59 L147.09 243.82 L147.45 244.71 L147.80 245.03 L148.15 244.97 L148.51 244.72 L148.86 244.36 L149.22 243.96 L149.57 243.58 L149.92 243.30 L150.28 243.19 L150.63 243.29 L150.99 243.47 L151.34 243.70 L151.69 243.97 L152.05 244.27 L152.40 244.59 L152.76 244.93 L153.11 245.27 L153.46 245.63 L153.82 246.05 L154.17 246.51 L154.53 247.02 L154.88 247.57 L155.23 248.15 L155.59 248.78 L155.94 249.43 L156.30 250.11 L156.65 250.88 L157.00 251.76 L157.36 252.75 L157.71 253.83 L158.07 254.98 L158.42 256.21 L158.77 257.49 L159.13 258.82 L159.48 260.19 L159.84 261.57 L160.19 262.97 L160.54 264.40 L160.90 265.98 L161.25 267.73 L161.60 269.63 L161.96 271.65 L162.31 273.78 L162.67 276.01 L163.02 278.56 L163.37 281.37 L163.73 284.28 L164.08 287.11 L164.44 289.70 L164.79 292.07 L165.14 294.41 L165.50 296.68 L165.85 298.81 L166.21 300.74 L166.56 302.42 L166.91 303.85 L167.27 305.23 L167.62 306.55 L167.98 307.78 L168.33 308.91 L168.68 309.92 L169.04 310.78 L169.39 311.47 L169.75 312.05 L170.10 312.65 L170.45 313.25 L170.81 313.82 L171.16 314.36 L171.52 314.84 L171.87 315.24 L172.22 315.55 L172.58 315.76 L172.93 315.83 L173.29 315.80 L173.64 315.73 L173.99 315.62 L174.35 315.48 L174.70 315.31 L175.05 315.10 L175.41 314.87 L175.76 314.60 L176.12 314.31 L176.47 313.99 L176.82 313.63 L177.18 313.25 L177.53 312.83 L177.89 312.41 L178.24 311.98 L178.59 311.55 L178.95 311.13 L179.30 310.73 L179.66 310.36 L180.01 310.00 L180.36 309.63 L180.72 309.27 L181.07 308.92 L181.43 308.57 L181.78 308.23 L182.13 307.90 L182.49 307.58 L182.84 307.28 L183.20 306.99 L183.55 306.72 L183.90 306.45 L184.26 306.18 L184.61 305.92 L184.97 305.66 L185.32 305.42 L185.67 305.20 L186.03 305.00 L186.38 304.82 L186.74 304.68 L187.09 304.58 L187.44 304.48 L187.80 304.39 L188.15 304.30 L188.50 304.21 L188.86 304.13 L189.21 304.05 L189.57 303.97 L189.92 303.90 L190.27 303.84 L190.63 303.79 L190.98 303.74 L191.34 303.70 L191.69 303.67 L192.04 303.65 L192.40 303.65 L192.75 303.64 L193.11 303.63 L193.46 303.63 L193.81 303.62 L194.17 303.61 L194.52 303.61 L194.88 303.60 L195.23 303.59 L195.58 303.59 L195.94 303.58 L196.29 303.57 L196.65 303.57 L197.00 303.56 L197.35 303.56 L197.71 303.55 L198.06 303.55 L198.42 303.55 L198.77 303.54 L199.12 303.54 L199.48 303.54 L199.83 303.54 L200.19 303.54 L200.54 303.55 L200.89 303.55 L201.25 303.55 L201.60 303.55 L201.95 303.56 L202.31 303.56 L202.66 303.56 L203.02 303.56 L203.37 303.57 L203.72 303.57 L204.08 303.57 L204.43 303.58 L204.79 303.58 L205.14 303.58 L205.49 303.59 L205.85 303.59 L206.20 303.59 L206.56 303.60 L206.91 303.60 L207.26 303.60 L207.62 303.61 L207.97 303.61 L208.33 303.61 L208.68 303.62 L209.03 303.62 L209.39 303.62 L209.74 303.63 L210.10 303.63 L210.45 303.63 L210.80 303.63 L211.16 303.64 L211.51 303.64 L211.87 303.64 L212.22 303.64 L212.57 303.64 L212.93 303.65 L213.28 303.65 L213.64 303.65 L213.99 303.65 L214.34 303.65 L214.70 303.65 L215.05 303.65 L215.40 303.65 L215.76 303.65 L216.11 303.65 L216.47 303.66 L216.82 303.66 L217.17 303.66 L217.53 303.66 L217.88 303.66 L218.24 303.66 L218.59 303.66 L218.94 303.66 L219.30 303.66 L219.65 303.66 L220.01 303.66 L220.36 303.66 L220.71 303.66 L221.07 303.66 L221.42 303.66 L221.78 303.66 L222.13 303.66 L222.48 303.66 L222.84 303.66 L223.19 303.66 L223.55 303.66 L223.90 303.66 L224.25 303.66 L224.61 303.66 L224.96 303.66 L225.32 303.66 L225.67 303.66 L226.02 303.66 L226.38 303.66 L226.73 303.66 L227.08 303.66 L227.44 303.66 L227.79 303.66 L228.15 303.66 L228.50 303.66 L228.85 303.66 L229.21 303.66 L229.56 303.66 L229.92 303.66 L230.27 303.66 L230.62 303.66 L230.98 303.66 L231.33 303.66 L231.69 303.65 L232.04 303.65 L232.39 303.65 L232.75 303.65 L233.10 303.65 L233.46 303.65" fill="none" stroke="#0000ff" stroke-width="1.4" stroke-linejoin="round"/>
<path d="M35.60 216.50 V374.00 H255.44" fill="none" stroke="#cfcfcf" stroke-width="1.2"/>
<path d="M35.60 374.00 v-1.8 M63.08 374.00 v-1.8 M90.56 374.00 v-1.8 M118.04 374.00 v-1.8 M145.52 374.00 v-1.8 M173.00 374.00 v-1.8 M200.48 374.00 v-1.8 M227.96 374.00 v-1.8 M255.44 374.00 v-1.8 M35.60 216.50 h1.8 M35.60 242.75 h1.8 M35.60 269.00 h1.8 M35.60 295.25 h1.8 M35.60 321.50 h1.8 M35.60 347.75 h1.8 M35.60 374.00 h1.8" fill="none" stroke="#8a8a8a" stroke-width="0.8"/>
<text class="t" x="35.60" y="382.80" font-size="8.8" text-anchor="middle">0</text>
<text class="t" x="63.08" y="382.80" font-size="8.8" text-anchor="middle">1</text>
<text class="t" x="90.56" y="382.80" font-size="8.8" text-anchor="middle">2</text>
<text class="t" x="118.04" y="382.80" font-size="8.8" text-anchor="middle">3</text>
<text class="t" x="145.52" y="382.80" font-size="8.8" text-anchor="middle">4</text>
<text class="t" x="173.00" y="382.80" font-size="8.8" text-anchor="middle">5</text>
<text class="t" x="200.48" y="382.80" font-size="8.8" text-anchor="middle">6</text>
<text class="t" x="227.96" y="382.80" font-size="8.8" text-anchor="middle">7</text>
<text class="t" x="255.44" y="382.80" font-size="8.8" text-anchor="middle">8</text>
<text class="t" x="34.30" y="219.40" font-size="8.8" text-anchor="end">4500</text>
<text class="t" x="34.30" y="245.65" font-size="8.8" text-anchor="end">4000</text>
<text class="t" x="34.30" y="271.90" font-size="8.8" text-anchor="end">3500</text>
<text class="t" x="34.30" y="298.15" font-size="8.8" text-anchor="end">3000</text>
<text class="t" x="34.30" y="324.40" font-size="8.8" text-anchor="end">2500</text>
<text class="t" x="34.30" y="350.65" font-size="8.8" text-anchor="end">2000</text>
<text class="t" x="34.30" y="376.90" font-size="8.8" text-anchor="end">1500</text>
<text class="t" x="145.10" y="391.80" font-size="8.7" text-anchor="middle" textLength="21.2" lengthAdjust="spacingAndGlyphs">time/s</text>
<text class="t" transform="translate(11.50 295.25) rotate(-90)" font-size="8.7" text-anchor="middle" textLength="56" lengthAdjust="spacingAndGlyphs">vertical force/N</text>
<path d="M168.30 239.40 H178.70" fill="none" stroke="#ff00e6" stroke-width="1.2" stroke-dasharray="3 0.8 1 0.8"/>
<text class="t" x="180.30" y="242.00" font-size="8.7" textLength="88.1" lengthAdjust="spacingAndGlyphs" xml:space="preserve">force of  left front wheel</text>
<path d="M168.30 250.70 H178.70" fill="none" stroke="#8b1a9b" stroke-width="1.15" stroke-dasharray="1.1 1.1"/>
<text class="t" x="180.30" y="253.30" font-size="8.7" textLength="93.2" lengthAdjust="spacingAndGlyphs" xml:space="preserve">force of  right front wheel</text>
<path d="M168.30 261.70 H178.70" fill="none" stroke="#6aa818" stroke-width="1.2" stroke-dasharray="2.4 1"/>
<text class="t" x="180.30" y="264.30" font-size="8.7" textLength="85.1" lengthAdjust="spacingAndGlyphs" xml:space="preserve">force of  left rear wheel</text>
<path d="M168.30 273.00 H178.70" fill="none" stroke="#0000ff" stroke-width="1.4"/>
<text class="t" x="180.30" y="275.60" font-size="8.7" textLength="89.9" lengthAdjust="spacingAndGlyphs" xml:space="preserve">force of  right rear wheel</text>
<text class="cap" x="136.20" y="410.40" font-size="13" font-weight="bold" text-anchor="middle">(g)</text>
</g>
<g class="plot" id="plot-h">
<path d="M318.30 368.00 L318.65 360.50 L319.01 359.93 L319.36 359.51 L319.72 359.28 L320.07 359.11 L320.43 358.92 L320.78 358.76 L321.14 358.67 L321.49 358.66 L321.85 358.68 L322.20 358.70 L322.56 358.73 L322.91 358.76 L323.27 358.79 L323.62 358.83 L323.98 358.87 L324.33 358.92 L324.69 358.97 L325.04 359.03 L325.40 359.09 L325.75 359.16 L326.11 359.23 L326.46 359.30 L326.82 359.37 L327.17 359.45 L327.53 359.52 L327.88 359.59 L328.24 359.66 L328.59 359.72 L328.95 359.79 L329.30 359.84 L329.66 359.88 L330.01 359.90 L330.37 359.87 L330.72 359.73 L331.08 359.52 L331.43 359.27 L331.79 359.00 L332.14 358.75 L332.50 358.47 L332.85 358.16 L333.21 357.84 L333.56 357.54 L333.92 357.27 L334.27 357.06 L334.63 356.90 L334.98 356.75 L335.34 356.62 L335.69 356.51 L336.05 356.41 L336.40 356.33 L336.76 356.27 L337.11 356.20 L337.47 356.13 L337.82 356.07 L338.18 356.01 L338.53 355.95 L338.89 355.90 L339.24 355.84 L339.60 355.80 L339.95 355.76 L340.31 355.72 L340.66 355.69 L341.02 355.66 L341.37 355.63 L341.73 355.59 L342.08 355.56 L342.44 355.53 L342.79 355.50 L343.15 355.47 L343.50 355.45 L343.86 355.43 L344.21 355.42 L344.57 355.42 L344.92 355.42 L345.28 355.43 L345.63 355.45 L345.99 355.47 L346.34 355.49 L346.70 355.52 L347.05 355.55 L347.41 355.58 L347.76 355.61 L348.12 355.64 L348.47 355.67 L348.83 355.69 L349.18 355.71 L349.54 355.74 L349.89 355.76 L350.25 355.77 L350.60 355.79 L350.96 355.81 L351.31 355.82 L351.67 355.84 L352.02 355.85 L352.38 355.86 L352.73 355.87 L353.09 355.82 L353.44 355.68 L353.80 355.49 L354.15 355.27 L354.51 355.05 L354.86 354.79 L355.22 354.31 L355.57 353.63 L355.93 352.79 L356.28 351.61 L356.64 349.68 L356.99 347.22 L357.34 344.42 L357.70 341.51 L358.05 338.66 L358.41 335.66 L358.76 332.43 L359.12 329.00 L359.47 325.38 L359.83 321.61 L360.18 317.69 L360.54 313.47 L360.89 308.92 L361.25 304.19 L361.60 299.41 L361.96 294.70 L362.31 290.19 L362.67 285.78 L363.02 281.31 L363.38 276.86 L363.73 272.53 L364.09 268.42 L364.44 264.62 L364.80 261.23 L365.15 258.10 L365.51 255.02 L365.86 252.07 L366.22 249.33 L366.57 246.88 L366.93 244.80 L367.28 243.17 L367.64 242.05 L367.99 241.13 L368.35 240.23 L368.70 239.39 L369.06 238.60 L369.41 237.89 L369.77 237.26 L370.12 236.73 L370.48 236.30 L370.83 236.00 L371.19 235.83 L371.54 235.81 L371.90 235.95 L372.25 236.23 L372.61 236.64 L372.96 237.16 L373.32 237.76 L373.67 238.44 L374.03 239.17 L374.38 239.93 L374.74 240.71 L375.09 241.51 L375.45 242.67 L375.80 244.29 L376.16 246.30 L376.51 248.65 L376.87 251.29 L377.22 254.16 L377.58 257.20 L377.93 260.56 L378.29 265.15 L378.64 270.81 L379.00 277.18 L379.35 283.92 L379.71 290.69 L380.06 298.60 L380.42 307.12 L380.77 314.35 L381.13 320.43 L381.48 324.32 L381.84 323.98 L382.19 322.56 L382.55 320.69 L382.90 318.69 L383.26 316.72 L383.61 314.68 L383.97 312.61 L384.32 310.55 L384.68 308.56 L385.03 306.66 L385.39 304.73 L385.74 302.84 L386.10 301.13 L386.45 299.73 L386.81 298.66 L387.16 297.67 L387.52 296.76 L387.87 295.92 L388.23 295.16 L388.58 294.50 L388.94 293.93 L389.29 293.46 L389.65 293.04 L390.00 292.59 L390.36 292.14 L390.71 291.68 L391.07 291.25 L391.42 290.84 L391.78 290.48 L392.13 290.17 L392.49 289.93 L392.84 289.77 L393.20 289.71 L393.55 289.74 L393.91 289.83 L394.26 289.94 L394.62 290.06 L394.97 290.20 L395.32 290.35 L395.68 290.50 L396.03 290.66 L396.39 290.81 L396.74 290.99 L397.10 291.18 L397.45 291.38 L397.81 291.57 L398.16 291.73 L398.52 291.87 L398.87 291.95 L399.23 291.96 L399.58 291.88 L399.94 291.71 L400.29 291.48 L400.65 291.20 L401.00 290.89 L401.36 290.55 L401.71 290.21 L402.07 289.87 L402.42 289.55 L402.78 289.23 L403.13 288.88 L403.49 288.53 L403.84 288.16 L404.20 287.79 L404.55 287.40 L404.91 287.02 L405.26 286.62 L405.62 286.22 L405.97 285.83 L406.33 285.43 L406.68 285.03 L407.04 284.63 L407.39 284.25 L407.75 283.86 L408.10 283.49 L408.46 283.12 L408.81 282.76 L409.17 282.40 L409.52 282.05 L409.88 281.69 L410.23 281.33 L410.59 280.98 L410.94 280.63 L411.30 280.28 L411.65 279.94 L412.01 279.61 L412.36 279.29 L412.72 278.98 L413.07 278.68 L413.43 278.39 L413.78 278.13 L414.14 277.90 L414.49 277.70 L414.85 277.52 L415.20 277.38 L415.56 277.28 L415.91 277.35 L416.27 277.62 L416.62 278.04 L416.98 278.55 L417.33 279.11 L417.69 279.67 L418.04 280.24 L418.40 281.19 L418.75 282.61 L419.11 284.47 L419.46 286.71 L419.82 289.58 L420.17 293.68 L420.53 298.55 L420.88 303.67 L421.24 308.51 L421.59 313.74 L421.95 319.04 L422.30 322.63 L422.66 321.82 L423.01 316.50 L423.37 309.50 L423.72 301.30 L424.08 290.81 L424.43 281.74 L424.79 276.10 L425.14 271.07 L425.50 266.47 L425.85 262.35 L426.21 258.74 L426.56 255.68 L426.92 253.21 L427.27 251.17 L427.63 249.12 L427.98 247.13 L428.34 245.28 L428.69 243.65 L429.05 242.33 L429.40 241.41 L429.76 240.80 L430.11 240.19 L430.47 239.59 L430.82 239.01 L431.18 238.48 L431.53 238.02 L431.89 237.66 L432.24 237.41 L432.60 237.29 L432.95 237.32 L433.31 237.43 L433.66 237.59 L434.01 237.82 L434.37 238.08 L434.72 238.39 L435.08 238.72 L435.43 239.08 L435.79 239.46 L436.14 239.84 L436.50 240.30 L436.85 240.86 L437.21 241.52 L437.56 242.26 L437.92 243.09 L438.27 244.00 L438.63 244.97 L438.98 246.00 L439.34 247.08 L439.69 248.34 L440.05 249.98 L440.40 251.92 L440.76 254.10 L441.11 256.46 L441.47 258.92 L441.82 261.42 L442.18 263.90 L442.53 266.51 L442.89 269.35 L443.24 272.39 L443.60 275.60 L443.95 278.95 L444.31 282.42 L444.66 286.08 L445.02 289.93 L445.37 293.97 L445.73 298.17 L446.08 302.54 L446.44 307.07 L446.79 311.75 L447.15 316.58 L447.50 322.14 L447.86 328.25 L448.21 334.27 L448.57 339.61 L448.92 344.91 L449.28 349.44 L449.63 351.85 L449.99 353.22 L450.34 354.46 L450.70 355.49 L451.05 356.24 L451.41 356.62 L451.76 356.58 L452.12 356.24 L452.47 355.86 L452.83 355.45 L453.18 355.01 L453.54 354.59 L453.89 354.19 L454.25 353.83 L454.60 353.52 L454.96 353.22 L455.31 352.88 L455.67 352.54 L456.02 352.21 L456.38 351.91 L456.73 351.65 L457.09 351.46 L457.44 351.35 L457.80 351.35 L458.15 351.44 L458.51 351.60 L458.86 351.82 L459.22 352.08 L459.57 352.39 L459.93 352.71 L460.28 353.05 L460.64 353.40 L460.99 353.73 L461.35 354.04 L461.70 354.34 L462.06 354.68 L462.41 355.05 L462.77 355.42 L463.12 355.79 L463.48 356.15 L463.83 356.47 L464.19 356.76 L464.54 356.98 L464.90 357.14 L465.25 357.24 L465.61 357.33 L465.96 357.41 L466.32 357.48 L466.67 357.55 L467.03 357.61 L467.38 357.66 L467.74 357.71 L468.09 357.74 L468.45 357.77 L468.80 357.79 L469.16 357.81 L469.51 357.81 L469.87 357.81 L470.22 357.81 L470.58 357.81 L470.93 357.80 L471.29 357.80 L471.64 357.80 L472.00 357.80 L472.35 357.79 L472.70 357.79 L473.06 357.79 L473.41 357.79 L473.77 357.78 L474.12 357.78 L474.48 357.78 L474.83 357.78 L475.19 357.77 L475.54 357.77 L475.90 357.77 L476.25 357.77 L476.61 357.76 L476.96 357.76 L477.32 357.76 L477.67 357.75 L478.03 357.75 L478.38 357.75 L478.74 357.75 L479.09 357.74 L479.45 357.74 L479.80 357.74 L480.16 357.74 L480.51 357.73 L480.87 357.73 L481.22 357.73 L481.58 357.73 L481.93 357.72 L482.29 357.72 L482.64 357.72 L483.00 357.72 L483.35 357.71 L483.71 357.71 L484.06 357.71 L484.42 357.70 L484.77 357.70 L485.13 357.70 L485.48 357.70 L485.84 357.69 L486.19 357.69 L486.55 357.69 L486.90 357.69 L487.26 357.68 L487.61 357.68 L487.97 357.68 L488.32 357.67 L488.68 357.67 L489.03 357.67 L489.39 357.66 L489.74 357.66 L490.10 357.66 L490.45 357.66 L490.81 357.65 L491.16 357.65 L491.52 357.65 L491.87 357.65 L492.23 357.64 L492.58 357.64 L492.94 357.64 L493.29 357.64 L493.65 357.63 L494.00 357.63 L494.36 357.63 L494.71 357.63 L495.07 357.62 L495.42 357.62 L495.78 357.62 L496.13 357.62 L496.49 357.62 L496.84 357.61 L497.20 357.61 L497.55 357.61 L497.91 357.61 L498.26 357.61 L498.62 357.61 L498.97 357.60 L499.33 357.60 L499.68 357.60 L500.04 357.60 L500.39 357.60 L500.75 357.60 L501.10 357.60 L501.46 357.60 L501.81 357.59 L502.17 357.59 L502.52 357.59 L502.88 357.59 L503.23 357.59 L503.59 357.59 L503.94 357.59 L504.30 357.59 L504.65 357.58 L505.01 357.58 L505.36 357.58 L505.72 357.58 L506.07 357.58 L506.43 357.58 L506.78 357.58 L507.14 357.58 L507.49 357.58 L507.85 357.58 L508.20 357.57 L508.56 357.57 L508.91 357.57 L509.27 357.57 L509.62 357.57 L509.98 357.57 L510.33 357.57 L510.68 357.57 L511.04 357.57 L511.39 357.57 L511.75 357.57 L512.10 357.57 L512.46 357.57 L512.81 357.57 L513.17 357.57 L513.52 357.56 L513.88 357.56 L514.23 357.56 L514.59 357.56 L514.94 357.56 L515.30 357.56 L515.65 357.56 L516.01 357.56 L516.36 357.56 L516.72 357.56" fill="none" stroke="#cc00cc" stroke-width="1.35" stroke-linejoin="round"/>
<path d="M318.30 368.00 L318.65 362.49 L319.01 361.91 L319.36 361.49 L319.72 361.28 L320.07 361.14 L320.43 360.99 L320.78 360.87 L321.14 360.80 L321.49 360.80 L321.85 360.82 L322.20 360.85 L322.56 360.87 L322.91 360.90 L323.27 360.94 L323.62 360.98 L323.98 361.02 L324.33 361.06 L324.69 361.11 L325.04 361.17 L325.40 361.23 L325.75 361.29 L326.11 361.36 L326.46 361.44 L326.82 361.51 L327.17 361.58 L327.53 361.66 L327.88 361.73 L328.24 361.79 L328.59 361.86 L328.95 361.92 L329.30 361.98 L329.66 362.02 L330.01 362.04 L330.37 362.01 L330.72 361.89 L331.08 361.70 L331.43 361.46 L331.79 361.22 L332.14 360.99 L332.50 360.74 L332.85 360.45 L333.21 360.16 L333.56 359.88 L333.92 359.63 L334.27 359.45 L334.63 359.30 L334.98 359.18 L335.34 359.06 L335.69 358.97 L336.05 358.88 L336.40 358.82 L336.76 358.76 L337.11 358.69 L337.47 358.63 L337.82 358.57 L338.18 358.52 L338.53 358.46 L338.89 358.41 L339.24 358.36 L339.60 358.32 L339.95 358.29 L340.31 358.26 L340.66 358.23 L341.02 358.21 L341.37 358.18 L341.73 358.16 L342.08 358.14 L342.44 358.11 L342.79 358.09 L343.15 358.08 L343.50 358.06 L343.86 358.05 L344.21 358.05 L344.57 358.05 L344.92 358.05 L345.28 358.07 L345.63 358.08 L345.99 358.10 L346.34 358.13 L346.70 358.16 L347.05 358.18 L347.41 358.21 L347.76 358.24 L348.12 358.27 L348.47 358.30 L348.83 358.33 L349.18 358.36 L349.54 358.39 L349.89 358.42 L350.25 358.45 L350.60 358.48 L350.96 358.51 L351.31 358.55 L351.67 358.58 L352.02 358.61 L352.38 358.63 L352.73 358.66 L353.09 358.63 L353.44 358.53 L353.80 358.38 L354.15 358.20 L354.51 358.01 L354.86 357.83 L355.22 357.58 L355.57 357.12 L355.93 356.45 L356.28 355.58 L356.64 354.50 L356.99 352.69 L357.34 350.08 L357.70 346.89 L358.05 343.31 L358.41 339.56 L358.76 335.84 L359.12 332.34 L359.47 328.78 L359.83 325.06 L360.18 321.28 L360.54 317.51 L360.89 313.83 L361.25 310.30 L361.60 306.78 L361.96 303.26 L362.31 299.82 L362.67 296.49 L363.02 293.33 L363.38 290.39 L363.73 287.62 L364.09 284.90 L364.44 282.27 L364.80 279.79 L365.15 277.51 L365.51 275.49 L365.86 273.77 L366.22 272.27 L366.57 270.81 L366.93 269.43 L367.28 268.14 L367.64 266.98 L367.99 265.98 L368.35 265.16 L368.70 264.56 L369.06 264.07 L369.41 263.60 L369.77 263.17 L370.12 262.80 L370.48 262.49 L370.83 262.28 L371.19 262.16 L371.54 262.15 L371.90 262.30 L372.25 262.59 L372.61 263.00 L372.96 263.51 L373.32 264.08 L373.67 264.71 L374.03 265.36 L374.38 266.01 L374.74 266.78 L375.09 267.87 L375.45 269.24 L375.80 270.85 L376.16 272.65 L376.51 274.59 L376.87 276.63 L377.22 278.72 L377.58 281.27 L377.93 284.49 L378.29 288.26 L378.64 292.43 L379.00 296.86 L379.35 301.72 L379.71 307.63 L380.06 313.98 L380.42 320.03 L380.77 325.33 L381.13 330.76 L381.48 334.07 L381.84 333.60 L382.19 331.98 L382.55 329.86 L382.90 327.63 L383.26 325.71 L383.61 324.02 L383.97 322.32 L384.32 320.66 L384.68 319.15 L385.03 317.83 L385.39 316.64 L385.74 315.53 L386.10 314.51 L386.45 313.58 L386.81 312.68 L387.16 311.77 L387.52 310.85 L387.87 309.97 L388.23 309.14 L388.58 308.42 L388.94 307.82 L389.29 307.38 L389.65 307.03 L390.00 306.68 L390.36 306.35 L390.71 306.03 L391.07 305.73 L391.42 305.47 L391.78 305.24 L392.13 305.05 L392.49 304.92 L392.84 304.85 L393.20 304.85 L393.55 304.91 L393.91 305.00 L394.26 305.12 L394.62 305.24 L394.97 305.38 L395.32 305.52 L395.68 305.67 L396.03 305.81 L396.39 305.97 L396.74 306.14 L397.10 306.34 L397.45 306.54 L397.81 306.73 L398.16 306.89 L398.52 307.02 L398.87 307.11 L399.23 307.13 L399.58 307.08 L399.94 306.98 L400.29 306.82 L400.65 306.64 L401.00 306.42 L401.36 306.19 L401.71 305.96 L402.07 305.73 L402.42 305.51 L402.78 305.29 L403.13 305.06 L403.49 304.82 L403.84 304.57 L404.20 304.32 L404.55 304.06 L404.91 303.79 L405.26 303.52 L405.62 303.25 L405.97 302.97 L406.33 302.69 L406.68 302.41 L407.04 302.13 L407.39 301.84 L407.75 301.56 L408.10 301.27 L408.46 300.99 L408.81 300.70 L409.17 300.40 L409.52 300.09 L409.88 299.77 L410.23 299.45 L410.59 299.12 L410.94 298.79 L411.30 298.47 L411.65 298.16 L412.01 297.85 L412.36 297.56 L412.72 297.29 L413.07 297.04 L413.43 296.82 L413.78 296.62 L414.14 296.46 L414.49 296.32 L414.85 296.21 L415.20 296.12 L415.56 296.04 L415.91 295.98 L416.27 295.94 L416.62 295.98 L416.98 296.19 L417.33 296.50 L417.69 296.87 L418.04 297.26 L418.40 297.71 L418.75 298.60 L419.11 299.91 L419.46 301.57 L419.82 303.72 L420.17 306.86 L420.53 310.62 L420.88 314.61 L421.24 318.42 L421.59 322.97 L421.95 327.67 L422.30 330.19 L422.66 328.62 L423.01 324.12 L423.37 319.04 L423.72 314.62 L424.08 309.89 L424.43 305.07 L424.79 300.41 L425.14 296.17 L425.50 292.54 L425.85 289.10 L426.21 285.77 L426.56 282.63 L426.92 279.73 L427.27 277.13 L427.63 274.90 L427.98 273.09 L428.34 271.68 L428.69 270.36 L429.05 269.13 L429.40 268.04 L429.76 267.12 L430.11 266.41 L430.47 265.91 L430.82 265.42 L431.18 264.94 L431.53 264.49 L431.89 264.11 L432.24 263.82 L432.60 263.65 L432.95 263.64 L433.31 263.69 L433.66 263.81 L434.01 263.97 L434.37 264.18 L434.72 264.43 L435.08 264.71 L435.43 265.03 L435.79 265.39 L436.14 265.85 L436.50 266.38 L436.85 266.98 L437.21 267.61 L437.56 268.27 L437.92 268.93 L438.27 269.60 L438.63 270.34 L438.98 271.16 L439.34 272.05 L439.69 273.02 L440.05 274.06 L440.40 275.21 L440.76 276.64 L441.11 278.34 L441.47 280.25 L441.82 282.32 L442.18 284.51 L442.53 286.77 L442.89 289.34 L443.24 292.21 L443.60 295.27 L443.95 298.41 L444.31 301.59 L444.66 304.87 L445.02 308.25 L445.37 311.70 L445.73 315.20 L446.08 318.72 L446.44 322.24 L446.79 325.73 L447.15 329.25 L447.50 332.84 L447.86 336.54 L448.21 340.68 L448.57 345.37 L448.92 349.76 L449.28 352.98 L449.63 355.07 L449.99 356.74 L450.34 357.94 L450.70 358.59 L451.05 359.03 L451.41 359.43 L451.76 359.64 L452.12 359.49 L452.47 359.13 L452.83 358.70 L453.18 358.21 L453.54 357.72 L453.89 357.24 L454.25 356.83 L454.60 356.50 L454.96 356.20 L455.31 355.88 L455.67 355.56 L456.02 355.26 L456.38 354.99 L456.73 354.78 L457.09 354.63 L457.44 354.55 L457.80 354.57 L458.15 354.68 L458.51 354.83 L458.86 355.02 L459.22 355.24 L459.57 355.48 L459.93 355.74 L460.28 356.00 L460.64 356.27 L460.99 356.53 L461.35 356.78 L461.70 357.02 L462.06 357.29 L462.41 357.57 L462.77 357.85 L463.12 358.14 L463.48 358.41 L463.83 358.66 L464.19 358.89 L464.54 359.08 L464.90 359.23 L465.25 359.33 L465.61 359.44 L465.96 359.53 L466.32 359.62 L466.67 359.70 L467.03 359.78 L467.38 359.84 L467.74 359.90 L468.09 359.95 L468.45 359.99 L468.80 360.02 L469.16 360.04 L469.51 360.05 L469.87 360.05 L470.22 360.05 L470.58 360.05 L470.93 360.04 L471.29 360.04 L471.64 360.04 L472.00 360.04 L472.35 360.04 L472.70 360.04 L473.06 360.04 L473.41 360.04 L473.77 360.03 L474.12 360.03 L474.48 360.03 L474.83 360.03 L475.19 360.03 L475.54 360.03 L475.90 360.03 L476.25 360.03 L476.61 360.02 L476.96 360.02 L477.32 360.02 L477.67 360.02 L478.03 360.02 L478.38 360.02 L478.74 360.02 L479.09 360.01 L479.45 360.01 L479.80 360.01 L480.16 360.01 L480.51 360.01 L480.87 360.01 L481.22 360.01 L481.58 360.01 L481.93 360.00 L482.29 360.00 L482.64 360.00 L483.00 360.00 L483.35 360.00 L483.71 360.00 L484.06 360.00 L484.42 359.99 L484.77 359.99 L485.13 359.99 L485.48 359.99 L485.84 359.99 L486.19 359.99 L486.55 359.99 L486.90 359.99 L487.26 359.98 L487.61 359.98 L487.97 359.98 L488.32 359.98 L488.68 359.98 L489.03 359.98 L489.39 359.98 L489.74 359.97 L490.10 359.97 L490.45 359.97 L490.81 359.97 L491.16 359.97 L491.52 359.97 L491.87 359.97 L492.23 359.97 L492.58 359.96 L492.94 359.96 L493.29 359.96 L493.65 359.96 L494.00 359.96 L494.36 359.96 L494.71 359.96 L495.07 359.96 L495.42 359.95 L495.78 359.95 L496.13 359.95 L496.49 359.95 L496.84 359.95 L497.20 359.95 L497.55 359.95 L497.91 359.95 L498.26 359.95 L498.62 359.94 L498.97 359.94 L499.33 359.94 L499.68 359.94 L500.04 359.94 L500.39 359.94 L500.75 359.94 L501.10 359.94 L501.46 359.94 L501.81 359.93 L502.17 359.93 L502.52 359.93 L502.88 359.93 L503.23 359.93 L503.59 359.93 L503.94 359.93 L504.30 359.93 L504.65 359.93 L505.01 359.93 L505.36 359.93 L505.72 359.92 L506.07 359.92 L506.43 359.92 L506.78 359.92 L507.14 359.92 L507.49 359.92 L507.85 359.92 L508.20 359.92 L508.56 359.92 L508.91 359.92 L509.27 359.91 L509.62 359.91 L509.98 359.91 L510.33 359.91 L510.68 359.91 L511.04 359.91 L511.39 359.91 L511.75 359.91 L512.10 359.91 L512.46 359.91 L512.81 359.91 L513.17 359.91 L513.52 359.91 L513.88 359.90 L514.23 359.90 L514.59 359.90 L514.94 359.90 L515.30 359.90 L515.65 359.90 L516.01 359.90 L516.36 359.90 L516.72 359.90" fill="none" stroke="#0b6fc4" stroke-width="1.5" stroke-linejoin="round"/>
<path d="M318.30 218.90 V368.00 H538.46" fill="none" stroke="#b9b9b9" stroke-width="1.2"/>
<path d="M318.30 368.00 v-1.8 M345.82 368.00 v-1.8 M373.34 368.00 v-1.8 M400.86 368.00 v-1.8 M428.38 368.00 v-1.8 M455.90 368.00 v-1.8 M483.42 368.00 v-1.8 M510.94 368.00 v-1.8 M538.46 368.00 v-1.8 M318.30 218.90 h1.8 M318.30 243.75 h1.8 M318.30 268.60 h1.8 M318.30 293.45 h1.8 M318.30 318.30 h1.8 M318.30 343.15 h1.8 M318.30 368.00 h1.8" fill="none" stroke="#8a8a8a" stroke-width="0.8"/>
<text class="t" x="318.30" y="376.30" font-size="8.8" text-anchor="middle">0</text>
<text class="t" x="345.82" y="376.30" font-size="8.8" text-anchor="middle">1</text>
<text class="t" x="373.34" y="376.30" font-size="8.8" text-anchor="middle">2</text>
<text class="t" x="400.86" y="376.30" font-size="8.8" text-anchor="middle">3</text>
<text class="t" x="428.38" y="376.30" font-size="8.8" text-anchor="middle">4</text>
<text class="t" x="455.90" y="376.30" font-size="8.8" text-anchor="middle">5</text>
<text class="t" x="483.42" y="376.30" font-size="8.8" text-anchor="middle">6</text>
<text class="t" x="510.94" y="376.30" font-size="8.8" text-anchor="middle">7</text>
<text class="t" x="538.46" y="376.30" font-size="8.8" text-anchor="middle">8</text>
<text class="t" x="317.00" y="221.80" font-size="8.8" text-anchor="end">3</text>
<text class="t" x="317.00" y="246.65" font-size="8.8" text-anchor="end">2.5</text>
<text class="t" x="317.00" y="271.50" font-size="8.8" text-anchor="end">2</text>
<text class="t" x="317.00" y="296.35" font-size="8.8" text-anchor="end">1.5</text>
<text class="t" x="317.00" y="321.20" font-size="8.8" text-anchor="end">1</text>
<text class="t" x="317.00" y="346.05" font-size="8.8" text-anchor="end">0.5</text>
<text class="t" x="317.00" y="370.90" font-size="8.8" text-anchor="end">0</text>
<text class="t" x="429.75" y="384.40" font-size="8.7" text-anchor="middle" textLength="20.5" lengthAdjust="spacingAndGlyphs">time/s</text>
<text class="t" transform="translate(303.00 293.45) rotate(-90)" font-size="8.7" text-anchor="middle" textLength="81.2" lengthAdjust="spacingAndGlyphs">sum of wheel load rates</text>
<rect x="344.50" y="212.40" width="118.20" height="23.20" fill="#ffffff" stroke="#a0a0a0" stroke-width="0.8"/>
<path d="M346.20 219.00 H356.30" fill="none" stroke="#cc00cc" stroke-width="1.35"/>
<text class="t" x="357.60" y="221.60" font-size="8.7" textLength="102.8" lengthAdjust="spacingAndGlyphs" xml:space="preserve">average  distribution of torque</text>
<path d="M346.20 229.70 H356.30" fill="none" stroke="#0b6fc4" stroke-width="1.5"/>
<text class="t" x="357.60" y="232.30" font-size="8.7" textLength="102.3" lengthAdjust="spacingAndGlyphs" xml:space="preserve">optimal  distribution of torque</text>
<text class="cap" x="420.60" y="410.60" font-size="13" font-weight="bold" text-anchor="middle">(h)</text>
</g>
</svg>
</body>
</html>
